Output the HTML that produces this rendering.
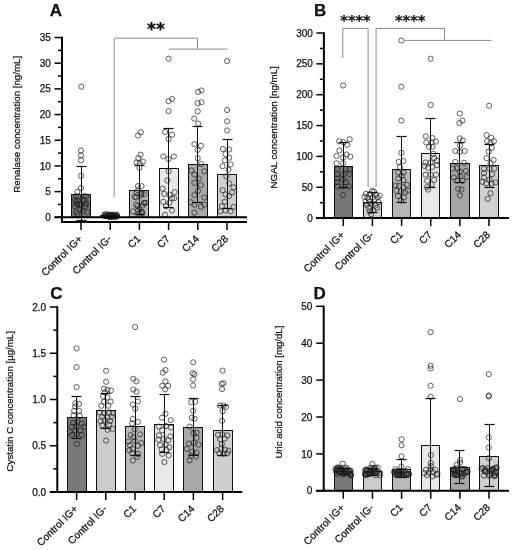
<!DOCTYPE html>
<html><head><meta charset="utf-8"><style>
html,body{margin:0;padding:0;background:#fff;}
svg{display:block;}
text{font-family:"Liberation Sans", Arial, sans-serif;fill:#111;stroke:#111;stroke-width:0.25px;}
</style></head><body>
<svg width="514" height="550" viewBox="0 0 514 550">
<rect width="514" height="550" fill="#fff"/>
<rect x="71.50" y="194.50" width="19.00" height="22.80" fill="#7a7a7a" stroke="#111" stroke-width="1"/>
<rect x="100.50" y="215.50" width="19.00" height="1.80" fill="#cccccc" stroke="#111" stroke-width="1"/>
<rect x="129.50" y="190.50" width="19.00" height="26.80" fill="#b8b8b8" stroke="#111" stroke-width="1"/>
<rect x="159.50" y="168.50" width="19.00" height="48.80" fill="#e8e8e8" stroke="#111" stroke-width="1"/>
<rect x="188.50" y="164.50" width="19.00" height="52.80" fill="#a8a8a8" stroke="#111" stroke-width="1"/>
<rect x="217.50" y="174.50" width="19.00" height="42.80" fill="#cfcfcf" stroke="#111" stroke-width="1"/>
<rect x="102" y="213.2" width="17" height="5.8" rx="2.9" fill="#111"/>
<circle cx="81.3" cy="86.7" r="2.6" fill="none" stroke="#222" stroke-width="0.72"/>
<circle cx="81.0" cy="150.5" r="2.6" fill="none" stroke="#222" stroke-width="0.72"/>
<circle cx="81.0" cy="155.5" r="2.6" fill="none" stroke="#222" stroke-width="0.72"/>
<circle cx="81.0" cy="160.3" r="2.6" fill="none" stroke="#222" stroke-width="0.72"/>
<circle cx="81.0" cy="175.8" r="2.6" fill="none" stroke="#222" stroke-width="0.72"/>
<circle cx="81.0" cy="188.0" r="2.6" fill="none" stroke="#222" stroke-width="0.72"/>
<circle cx="77.3" cy="191.8" r="2.6" fill="none" stroke="#222" stroke-width="0.72"/>
<circle cx="76.2" cy="212.1" r="2.6" fill="none" stroke="#222" stroke-width="0.72"/>
<circle cx="84.4" cy="200.8" r="2.6" fill="none" stroke="#222" stroke-width="0.72"/>
<circle cx="80.9" cy="204.5" r="2.6" fill="none" stroke="#222" stroke-width="0.72"/>
<circle cx="83.0" cy="211.0" r="2.6" fill="none" stroke="#222" stroke-width="0.72"/>
<circle cx="75.7" cy="196.5" r="2.6" fill="none" stroke="#222" stroke-width="0.72"/>
<circle cx="85.4" cy="204.2" r="2.6" fill="none" stroke="#222" stroke-width="0.72"/>
<circle cx="84.4" cy="196.0" r="2.6" fill="none" stroke="#222" stroke-width="0.72"/>
<circle cx="80.3" cy="209.7" r="2.6" fill="none" stroke="#222" stroke-width="0.72"/>
<circle cx="77.5" cy="214.0" r="2.6" fill="none" stroke="#222" stroke-width="0.72"/>
<circle cx="86.2" cy="196.6" r="2.6" fill="none" stroke="#222" stroke-width="0.72"/>
<circle cx="74.8" cy="206.3" r="2.6" fill="none" stroke="#222" stroke-width="0.72"/>
<circle cx="86.7" cy="203.2" r="2.6" fill="none" stroke="#222" stroke-width="0.72"/>
<circle cx="77.3" cy="204.0" r="2.6" fill="none" stroke="#222" stroke-width="0.72"/>
<circle cx="74.9" cy="200.2" r="2.6" fill="none" stroke="#222" stroke-width="0.72"/>
<circle cx="80.2" cy="205.4" r="2.6" fill="none" stroke="#222" stroke-width="0.72"/>
<circle cx="77.5" cy="200.4" r="2.6" fill="none" stroke="#222" stroke-width="0.72"/>
<circle cx="77.3" cy="204.7" r="2.6" fill="none" stroke="#222" stroke-width="0.72"/>
<circle cx="78.3" cy="196.4" r="2.6" fill="none" stroke="#222" stroke-width="0.72"/>
<circle cx="85.4" cy="206.6" r="2.6" fill="none" stroke="#222" stroke-width="0.72"/>
<circle cx="82.8" cy="199.5" r="2.6" fill="none" stroke="#222" stroke-width="0.72"/>
<circle cx="87.4" cy="212.3" r="2.6" fill="none" stroke="#222" stroke-width="0.72"/>
<circle cx="76.1" cy="202.3" r="2.6" fill="none" stroke="#222" stroke-width="0.72"/>
<circle cx="116.7" cy="216.7" r="2.6" fill="none" stroke="#222" stroke-width="0.72"/>
<circle cx="105.0" cy="214.5" r="2.6" fill="none" stroke="#222" stroke-width="0.72"/>
<circle cx="115.2" cy="216.1" r="2.6" fill="none" stroke="#222" stroke-width="0.72"/>
<circle cx="113.0" cy="215.1" r="2.6" fill="none" stroke="#222" stroke-width="0.72"/>
<circle cx="112.2" cy="215.8" r="2.6" fill="none" stroke="#222" stroke-width="0.72"/>
<circle cx="111.9" cy="214.7" r="2.6" fill="none" stroke="#222" stroke-width="0.72"/>
<circle cx="109.9" cy="215.3" r="2.6" fill="none" stroke="#222" stroke-width="0.72"/>
<circle cx="113.7" cy="216.8" r="2.6" fill="none" stroke="#222" stroke-width="0.72"/>
<circle cx="116.6" cy="215.7" r="2.6" fill="none" stroke="#222" stroke-width="0.72"/>
<circle cx="110.1" cy="215.0" r="2.6" fill="none" stroke="#222" stroke-width="0.72"/>
<circle cx="104.8" cy="214.4" r="2.6" fill="none" stroke="#222" stroke-width="0.72"/>
<circle cx="110.3" cy="215.1" r="2.6" fill="none" stroke="#222" stroke-width="0.72"/>
<circle cx="109.2" cy="216.5" r="2.6" fill="none" stroke="#222" stroke-width="0.72"/>
<circle cx="111.1" cy="215.7" r="2.6" fill="none" stroke="#222" stroke-width="0.72"/>
<circle cx="107.4" cy="214.4" r="2.6" fill="none" stroke="#222" stroke-width="0.72"/>
<circle cx="108.5" cy="214.6" r="2.6" fill="none" stroke="#222" stroke-width="0.72"/>
<circle cx="110.9" cy="216.8" r="2.6" fill="none" stroke="#222" stroke-width="0.72"/>
<circle cx="113.1" cy="214.8" r="2.6" fill="none" stroke="#222" stroke-width="0.72"/>
<circle cx="115.9" cy="216.3" r="2.6" fill="none" stroke="#222" stroke-width="0.72"/>
<circle cx="113.8" cy="216.6" r="2.6" fill="none" stroke="#222" stroke-width="0.72"/>
<circle cx="114.2" cy="216.3" r="2.6" fill="none" stroke="#222" stroke-width="0.72"/>
<circle cx="108.9" cy="216.8" r="2.6" fill="none" stroke="#222" stroke-width="0.72"/>
<circle cx="116.8" cy="214.7" r="2.6" fill="none" stroke="#222" stroke-width="0.72"/>
<circle cx="114.1" cy="216.1" r="2.6" fill="none" stroke="#222" stroke-width="0.72"/>
<circle cx="110.3" cy="215.6" r="2.6" fill="none" stroke="#222" stroke-width="0.72"/>
<circle cx="110.7" cy="216.6" r="2.6" fill="none" stroke="#222" stroke-width="0.72"/>
<circle cx="110.8" cy="216.4" r="2.6" fill="none" stroke="#222" stroke-width="0.72"/>
<circle cx="108.9" cy="216.5" r="2.6" fill="none" stroke="#222" stroke-width="0.72"/>
<circle cx="116.0" cy="215.5" r="2.6" fill="none" stroke="#222" stroke-width="0.72"/>
<circle cx="111.7" cy="216.6" r="2.6" fill="none" stroke="#222" stroke-width="0.72"/>
<circle cx="140.9" cy="132.3" r="2.6" fill="none" stroke="#222" stroke-width="0.72"/>
<circle cx="138.0" cy="135.5" r="2.6" fill="none" stroke="#222" stroke-width="0.72"/>
<circle cx="140.6" cy="154.7" r="2.6" fill="none" stroke="#222" stroke-width="0.72"/>
<circle cx="138.3" cy="158.2" r="2.6" fill="none" stroke="#222" stroke-width="0.72"/>
<circle cx="136.6" cy="162.5" r="2.6" fill="none" stroke="#222" stroke-width="0.72"/>
<circle cx="142.8" cy="161.6" r="2.6" fill="none" stroke="#222" stroke-width="0.72"/>
<circle cx="139.7" cy="163.0" r="2.6" fill="none" stroke="#222" stroke-width="0.72"/>
<circle cx="139.4" cy="167.8" r="2.6" fill="none" stroke="#222" stroke-width="0.72"/>
<circle cx="138.0" cy="186.1" r="2.6" fill="none" stroke="#222" stroke-width="0.72"/>
<circle cx="141.5" cy="186.1" r="2.6" fill="none" stroke="#222" stroke-width="0.72"/>
<circle cx="138.0" cy="190.4" r="2.6" fill="none" stroke="#222" stroke-width="0.72"/>
<circle cx="136.0" cy="204.5" r="2.6" fill="none" stroke="#222" stroke-width="0.72"/>
<circle cx="137.7" cy="205.9" r="2.6" fill="none" stroke="#222" stroke-width="0.72"/>
<circle cx="141.0" cy="193.5" r="2.6" fill="none" stroke="#222" stroke-width="0.72"/>
<circle cx="133.1" cy="211.3" r="2.6" fill="none" stroke="#222" stroke-width="0.72"/>
<circle cx="136.3" cy="197.4" r="2.6" fill="none" stroke="#222" stroke-width="0.72"/>
<circle cx="145.8" cy="202.8" r="2.6" fill="none" stroke="#222" stroke-width="0.72"/>
<circle cx="143.8" cy="203.0" r="2.6" fill="none" stroke="#222" stroke-width="0.72"/>
<circle cx="141.2" cy="195.5" r="2.6" fill="none" stroke="#222" stroke-width="0.72"/>
<circle cx="141.2" cy="212.0" r="2.6" fill="none" stroke="#222" stroke-width="0.72"/>
<circle cx="139.7" cy="209.0" r="2.6" fill="none" stroke="#222" stroke-width="0.72"/>
<circle cx="141.6" cy="193.5" r="2.6" fill="none" stroke="#222" stroke-width="0.72"/>
<circle cx="142.8" cy="205.6" r="2.6" fill="none" stroke="#222" stroke-width="0.72"/>
<circle cx="136.8" cy="192.7" r="2.6" fill="none" stroke="#222" stroke-width="0.72"/>
<circle cx="144.2" cy="202.9" r="2.6" fill="none" stroke="#222" stroke-width="0.72"/>
<circle cx="142.2" cy="212.2" r="2.6" fill="none" stroke="#222" stroke-width="0.72"/>
<circle cx="142.2" cy="213.2" r="2.6" fill="none" stroke="#222" stroke-width="0.72"/>
<circle cx="138.0" cy="210.4" r="2.6" fill="none" stroke="#222" stroke-width="0.72"/>
<circle cx="138.7" cy="213.5" r="2.6" fill="none" stroke="#222" stroke-width="0.72"/>
<circle cx="144.3" cy="194.2" r="2.6" fill="none" stroke="#222" stroke-width="0.72"/>
<circle cx="134.7" cy="197.0" r="2.6" fill="none" stroke="#222" stroke-width="0.72"/>
<circle cx="168.6" cy="58.7" r="2.6" fill="none" stroke="#222" stroke-width="0.72"/>
<circle cx="172.1" cy="98.9" r="2.6" fill="none" stroke="#222" stroke-width="0.72"/>
<circle cx="168.6" cy="101.1" r="2.6" fill="none" stroke="#222" stroke-width="0.72"/>
<circle cx="168.6" cy="111.1" r="2.6" fill="none" stroke="#222" stroke-width="0.72"/>
<circle cx="165.1" cy="132.0" r="2.6" fill="none" stroke="#222" stroke-width="0.72"/>
<circle cx="172.1" cy="134.6" r="2.6" fill="none" stroke="#222" stroke-width="0.72"/>
<circle cx="168.6" cy="139.0" r="2.6" fill="none" stroke="#222" stroke-width="0.72"/>
<circle cx="163.3" cy="156.4" r="2.6" fill="none" stroke="#222" stroke-width="0.72"/>
<circle cx="173.8" cy="156.4" r="2.6" fill="none" stroke="#222" stroke-width="0.72"/>
<circle cx="168.6" cy="159.0" r="2.6" fill="none" stroke="#222" stroke-width="0.72"/>
<circle cx="168.6" cy="171.2" r="2.6" fill="none" stroke="#222" stroke-width="0.72"/>
<circle cx="167.4" cy="180.5" r="2.6" fill="none" stroke="#222" stroke-width="0.72"/>
<circle cx="162.5" cy="188.7" r="2.6" fill="none" stroke="#222" stroke-width="0.72"/>
<circle cx="174.7" cy="192.2" r="2.6" fill="none" stroke="#222" stroke-width="0.72"/>
<circle cx="164.2" cy="193.9" r="2.6" fill="none" stroke="#222" stroke-width="0.72"/>
<circle cx="169.5" cy="194.8" r="2.6" fill="none" stroke="#222" stroke-width="0.72"/>
<circle cx="172.1" cy="198.3" r="2.6" fill="none" stroke="#222" stroke-width="0.72"/>
<circle cx="163.3" cy="201.8" r="2.6" fill="none" stroke="#222" stroke-width="0.72"/>
<circle cx="169.5" cy="202.7" r="2.6" fill="none" stroke="#222" stroke-width="0.72"/>
<circle cx="174.3" cy="198.3" r="2.6" fill="none" stroke="#222" stroke-width="0.72"/>
<circle cx="172.1" cy="210.5" r="2.6" fill="none" stroke="#222" stroke-width="0.72"/>
<circle cx="165.1" cy="214.9" r="2.6" fill="none" stroke="#222" stroke-width="0.72"/>
<circle cx="166.0" cy="206.2" r="2.6" fill="none" stroke="#222" stroke-width="0.72"/>
<circle cx="198.2" cy="91.9" r="2.6" fill="none" stroke="#222" stroke-width="0.72"/>
<circle cx="201.5" cy="90.5" r="2.6" fill="none" stroke="#222" stroke-width="0.72"/>
<circle cx="197.7" cy="103.2" r="2.6" fill="none" stroke="#222" stroke-width="0.72"/>
<circle cx="201.5" cy="102.3" r="2.6" fill="none" stroke="#222" stroke-width="0.72"/>
<circle cx="197.7" cy="111.4" r="2.6" fill="none" stroke="#222" stroke-width="0.72"/>
<circle cx="194.2" cy="118.7" r="2.6" fill="none" stroke="#222" stroke-width="0.72"/>
<circle cx="198.2" cy="123.6" r="2.6" fill="none" stroke="#222" stroke-width="0.72"/>
<circle cx="194.4" cy="144.1" r="2.6" fill="none" stroke="#222" stroke-width="0.72"/>
<circle cx="200.9" cy="145.8" r="2.6" fill="none" stroke="#222" stroke-width="0.72"/>
<circle cx="197.7" cy="149.9" r="2.6" fill="none" stroke="#222" stroke-width="0.72"/>
<circle cx="197.7" cy="158.2" r="2.6" fill="none" stroke="#222" stroke-width="0.72"/>
<circle cx="200.9" cy="164.0" r="2.6" fill="none" stroke="#222" stroke-width="0.72"/>
<circle cx="191.5" cy="170.5" r="2.6" fill="none" stroke="#222" stroke-width="0.72"/>
<circle cx="204.5" cy="171.3" r="2.6" fill="none" stroke="#222" stroke-width="0.72"/>
<circle cx="194.4" cy="174.6" r="2.6" fill="none" stroke="#222" stroke-width="0.72"/>
<circle cx="198.7" cy="178.5" r="2.6" fill="none" stroke="#222" stroke-width="0.72"/>
<circle cx="194.4" cy="182.9" r="2.6" fill="none" stroke="#222" stroke-width="0.72"/>
<circle cx="200.9" cy="185.1" r="2.6" fill="none" stroke="#222" stroke-width="0.72"/>
<circle cx="198.0" cy="190.9" r="2.6" fill="none" stroke="#222" stroke-width="0.72"/>
<circle cx="194.4" cy="195.0" r="2.6" fill="none" stroke="#222" stroke-width="0.72"/>
<circle cx="204.5" cy="197.5" r="2.6" fill="none" stroke="#222" stroke-width="0.72"/>
<circle cx="190.7" cy="202.3" r="2.6" fill="none" stroke="#222" stroke-width="0.72"/>
<circle cx="194.4" cy="204.7" r="2.6" fill="none" stroke="#222" stroke-width="0.72"/>
<circle cx="200.9" cy="206.9" r="2.6" fill="none" stroke="#222" stroke-width="0.72"/>
<circle cx="204.5" cy="204.7" r="2.6" fill="none" stroke="#222" stroke-width="0.72"/>
<circle cx="194.4" cy="212.7" r="2.6" fill="none" stroke="#222" stroke-width="0.72"/>
<circle cx="227.1" cy="61.1" r="2.6" fill="none" stroke="#222" stroke-width="0.72"/>
<circle cx="227.1" cy="110.0" r="2.6" fill="none" stroke="#222" stroke-width="0.72"/>
<circle cx="227.1" cy="121.3" r="2.6" fill="none" stroke="#222" stroke-width="0.72"/>
<circle cx="227.1" cy="130.4" r="2.6" fill="none" stroke="#222" stroke-width="0.72"/>
<circle cx="222.9" cy="149.0" r="2.6" fill="none" stroke="#222" stroke-width="0.72"/>
<circle cx="229.2" cy="149.5" r="2.6" fill="none" stroke="#222" stroke-width="0.72"/>
<circle cx="225.5" cy="154.1" r="2.6" fill="none" stroke="#222" stroke-width="0.72"/>
<circle cx="229.2" cy="157.7" r="2.6" fill="none" stroke="#222" stroke-width="0.72"/>
<circle cx="224.8" cy="160.4" r="2.6" fill="none" stroke="#222" stroke-width="0.72"/>
<circle cx="222.6" cy="166.2" r="2.6" fill="none" stroke="#222" stroke-width="0.72"/>
<circle cx="230.6" cy="164.4" r="2.6" fill="none" stroke="#222" stroke-width="0.72"/>
<circle cx="228.5" cy="169.8" r="2.6" fill="none" stroke="#222" stroke-width="0.72"/>
<circle cx="226.3" cy="176.4" r="2.6" fill="none" stroke="#222" stroke-width="0.72"/>
<circle cx="229.2" cy="183.3" r="2.6" fill="none" stroke="#222" stroke-width="0.72"/>
<circle cx="233.5" cy="187.3" r="2.6" fill="none" stroke="#222" stroke-width="0.72"/>
<circle cx="222.6" cy="190.2" r="2.6" fill="none" stroke="#222" stroke-width="0.72"/>
<circle cx="232.1" cy="192.4" r="2.6" fill="none" stroke="#222" stroke-width="0.72"/>
<circle cx="225.5" cy="194.5" r="2.6" fill="none" stroke="#222" stroke-width="0.72"/>
<circle cx="229.2" cy="196.0" r="2.6" fill="none" stroke="#222" stroke-width="0.72"/>
<circle cx="224.8" cy="201.8" r="2.6" fill="none" stroke="#222" stroke-width="0.72"/>
<circle cx="221.9" cy="206.2" r="2.6" fill="none" stroke="#222" stroke-width="0.72"/>
<circle cx="233.5" cy="206.9" r="2.6" fill="none" stroke="#222" stroke-width="0.72"/>
<circle cx="220.5" cy="211.3" r="2.6" fill="none" stroke="#222" stroke-width="0.72"/>
<circle cx="225.5" cy="210.5" r="2.6" fill="none" stroke="#222" stroke-width="0.72"/>
<circle cx="230.6" cy="211.3" r="2.6" fill="none" stroke="#222" stroke-width="0.72"/>
<line x1="81.50" y1="166.96" x2="81.50" y2="220.38" stroke="#111" stroke-width="1"/>
<line x1="76.50" y1="166.50" x2="86.50" y2="166.50" stroke="#111" stroke-width="1.2"/>
<line x1="76.50" y1="220.50" x2="86.50" y2="220.50" stroke="#111" stroke-width="1.2"/>
<line x1="110.50" y1="215.76" x2="110.50" y2="215.76" stroke="#111" stroke-width="1"/>
<line x1="105.50" y1="215.50" x2="115.50" y2="215.50" stroke="#111" stroke-width="1.2"/>
<line x1="105.50" y1="215.50" x2="115.50" y2="215.50" stroke="#111" stroke-width="1.2"/>
<line x1="139.50" y1="165.62" x2="139.50" y2="214.73" stroke="#111" stroke-width="1"/>
<line x1="134.50" y1="165.50" x2="144.50" y2="165.50" stroke="#111" stroke-width="1.2"/>
<line x1="134.50" y1="214.50" x2="144.50" y2="214.50" stroke="#111" stroke-width="1.2"/>
<line x1="168.50" y1="128.43" x2="168.50" y2="207.03" stroke="#111" stroke-width="1"/>
<line x1="163.50" y1="128.50" x2="173.50" y2="128.50" stroke="#111" stroke-width="1.2"/>
<line x1="163.50" y1="207.50" x2="173.50" y2="207.50" stroke="#111" stroke-width="1.2"/>
<line x1="197.50" y1="126.89" x2="197.50" y2="202.40" stroke="#111" stroke-width="1"/>
<line x1="192.50" y1="126.50" x2="202.50" y2="126.50" stroke="#111" stroke-width="1.2"/>
<line x1="192.50" y1="202.50" x2="202.50" y2="202.50" stroke="#111" stroke-width="1.2"/>
<line x1="227.50" y1="139.22" x2="227.50" y2="208.57" stroke="#111" stroke-width="1"/>
<line x1="222.50" y1="139.50" x2="232.50" y2="139.50" stroke="#111" stroke-width="1.2"/>
<line x1="222.50" y1="208.50" x2="232.50" y2="208.50" stroke="#111" stroke-width="1.2"/>
<line x1="62" y1="36.75" x2="62" y2="223" stroke="#000" stroke-width="2"/>
<line x1="54.5" y1="217.30" x2="62" y2="217.30" stroke="#000" stroke-width="1.5"/>
<text x="50.8" y="220.90" font-size="10" text-anchor="end">0</text>
<line x1="54.5" y1="191.62" x2="62" y2="191.62" stroke="#000" stroke-width="1.5"/>
<text x="50.8" y="195.22" font-size="10" text-anchor="end">5</text>
<line x1="54.5" y1="165.93" x2="62" y2="165.93" stroke="#000" stroke-width="1.5"/>
<text x="50.8" y="169.53" font-size="10" text-anchor="end">10</text>
<line x1="54.5" y1="140.25" x2="62" y2="140.25" stroke="#000" stroke-width="1.5"/>
<text x="50.8" y="143.84" font-size="10" text-anchor="end">15</text>
<line x1="54.5" y1="114.56" x2="62" y2="114.56" stroke="#000" stroke-width="1.5"/>
<text x="50.8" y="118.16" font-size="10" text-anchor="end">20</text>
<line x1="54.5" y1="88.88" x2="62" y2="88.88" stroke="#000" stroke-width="1.5"/>
<text x="50.8" y="92.48" font-size="10" text-anchor="end">25</text>
<line x1="54.5" y1="63.19" x2="62" y2="63.19" stroke="#000" stroke-width="1.5"/>
<text x="50.8" y="66.79" font-size="10" text-anchor="end">30</text>
<line x1="54.5" y1="37.51" x2="62" y2="37.51" stroke="#000" stroke-width="1.5"/>
<text x="50.8" y="41.11" font-size="10" text-anchor="end">35</text>
<line x1="58" y1="204.46" x2="62" y2="204.46" stroke="#000" stroke-width="1.5"/>
<line x1="58" y1="178.77" x2="62" y2="178.77" stroke="#000" stroke-width="1.5"/>
<line x1="58" y1="153.09" x2="62" y2="153.09" stroke="#000" stroke-width="1.5"/>
<line x1="58" y1="127.40" x2="62" y2="127.40" stroke="#000" stroke-width="1.5"/>
<line x1="58" y1="101.72" x2="62" y2="101.72" stroke="#000" stroke-width="1.5"/>
<line x1="58" y1="76.03" x2="62" y2="76.03" stroke="#000" stroke-width="1.5"/>
<line x1="58" y1="50.35" x2="62" y2="50.35" stroke="#000" stroke-width="1.5"/>
<line x1="54.5" y1="217.3" x2="247" y2="217.3" stroke="#000" stroke-width="2"/>
<line x1="62" y1="222" x2="247" y2="222" stroke="#000" stroke-width="2"/>
<line x1="81.00" y1="222" x2="81.00" y2="230" stroke="#000" stroke-width="1.5"/>
<text x="82.90" y="239.40" font-size="10.3" text-anchor="end" transform="rotate(-45 82.90 239.40)">Control IG+</text>
<line x1="110.20" y1="222" x2="110.20" y2="230" stroke="#000" stroke-width="1.5"/>
<text x="112.10" y="239.40" font-size="10.3" text-anchor="end" transform="rotate(-45 112.10 239.40)">Control IG-</text>
<line x1="139.40" y1="222" x2="139.40" y2="230" stroke="#000" stroke-width="1.5"/>
<text x="141.30" y="239.40" font-size="10.3" text-anchor="end" transform="rotate(-45 141.30 239.40)">C1</text>
<line x1="168.60" y1="222" x2="168.60" y2="230" stroke="#000" stroke-width="1.5"/>
<text x="170.50" y="239.40" font-size="10.3" text-anchor="end" transform="rotate(-45 170.50 239.40)">C7</text>
<line x1="197.80" y1="222" x2="197.80" y2="230" stroke="#000" stroke-width="1.5"/>
<text x="199.70" y="239.40" font-size="10.3" text-anchor="end" transform="rotate(-45 199.70 239.40)">C14</text>
<line x1="227.00" y1="222" x2="227.00" y2="230" stroke="#000" stroke-width="1.5"/>
<text x="228.90" y="239.40" font-size="10.3" text-anchor="end" transform="rotate(-45 228.90 239.40)">C28</text>
<rect x="334.50" y="166.50" width="18.00" height="51.60" fill="#767676" stroke="#111" stroke-width="1"/>
<rect x="363.50" y="202.50" width="18.00" height="15.60" fill="#cdcdcd" stroke="#111" stroke-width="1"/>
<rect x="392.50" y="169.50" width="18.00" height="48.60" fill="#b6b6b6" stroke="#111" stroke-width="1"/>
<rect x="421.50" y="153.50" width="18.00" height="64.60" fill="#e8e8e8" stroke="#111" stroke-width="1"/>
<rect x="450.50" y="163.50" width="19.00" height="54.60" fill="#a6a6a6" stroke="#111" stroke-width="1"/>
<rect x="479.50" y="165.50" width="19.00" height="52.60" fill="#d0d0d0" stroke="#111" stroke-width="1"/>
<circle cx="343.1" cy="85.5" r="2.6" fill="none" stroke="#222" stroke-width="0.72"/>
<circle cx="349.7" cy="139.2" r="2.6" fill="none" stroke="#222" stroke-width="0.72"/>
<circle cx="339.2" cy="141.3" r="2.6" fill="none" stroke="#222" stroke-width="0.72"/>
<circle cx="343.6" cy="142.2" r="2.6" fill="none" stroke="#222" stroke-width="0.72"/>
<circle cx="347.1" cy="144.8" r="2.6" fill="none" stroke="#222" stroke-width="0.72"/>
<circle cx="339.4" cy="150.5" r="2.6" fill="none" stroke="#222" stroke-width="0.72"/>
<circle cx="346.6" cy="154.5" r="2.6" fill="none" stroke="#222" stroke-width="0.72"/>
<circle cx="336.5" cy="156.0" r="2.6" fill="none" stroke="#222" stroke-width="0.72"/>
<circle cx="343.0" cy="157.5" r="2.6" fill="none" stroke="#222" stroke-width="0.72"/>
<circle cx="350.3" cy="156.7" r="2.6" fill="none" stroke="#222" stroke-width="0.72"/>
<circle cx="336.5" cy="163.3" r="2.6" fill="none" stroke="#222" stroke-width="0.72"/>
<circle cx="343.0" cy="163.3" r="2.6" fill="none" stroke="#222" stroke-width="0.72"/>
<circle cx="337.2" cy="169.1" r="2.6" fill="none" stroke="#222" stroke-width="0.72"/>
<circle cx="345.9" cy="169.1" r="2.6" fill="none" stroke="#222" stroke-width="0.72"/>
<circle cx="349.5" cy="169.1" r="2.6" fill="none" stroke="#222" stroke-width="0.72"/>
<circle cx="337.2" cy="174.2" r="2.6" fill="none" stroke="#222" stroke-width="0.72"/>
<circle cx="343.0" cy="174.2" r="2.6" fill="none" stroke="#222" stroke-width="0.72"/>
<circle cx="349.5" cy="174.2" r="2.6" fill="none" stroke="#222" stroke-width="0.72"/>
<circle cx="337.2" cy="178.5" r="2.6" fill="none" stroke="#222" stroke-width="0.72"/>
<circle cx="343.0" cy="179.3" r="2.6" fill="none" stroke="#222" stroke-width="0.72"/>
<circle cx="345.9" cy="182.2" r="2.6" fill="none" stroke="#222" stroke-width="0.72"/>
<circle cx="337.2" cy="182.2" r="2.6" fill="none" stroke="#222" stroke-width="0.72"/>
<circle cx="348.8" cy="186.5" r="2.6" fill="none" stroke="#222" stroke-width="0.72"/>
<circle cx="337.9" cy="186.5" r="2.6" fill="none" stroke="#222" stroke-width="0.72"/>
<circle cx="343.0" cy="186.5" r="2.6" fill="none" stroke="#222" stroke-width="0.72"/>
<circle cx="343.0" cy="195.0" r="2.6" fill="none" stroke="#222" stroke-width="0.72"/>
<circle cx="372.2" cy="190.9" r="2.6" fill="none" stroke="#222" stroke-width="0.72"/>
<circle cx="374.0" cy="191.7" r="2.6" fill="none" stroke="#222" stroke-width="0.72"/>
<circle cx="366.0" cy="193.8" r="2.6" fill="none" stroke="#222" stroke-width="0.72"/>
<circle cx="369.7" cy="194.2" r="2.6" fill="none" stroke="#222" stroke-width="0.72"/>
<circle cx="376.2" cy="194.6" r="2.6" fill="none" stroke="#222" stroke-width="0.72"/>
<circle cx="379.8" cy="195.7" r="2.6" fill="none" stroke="#222" stroke-width="0.72"/>
<circle cx="364.6" cy="196.8" r="2.6" fill="none" stroke="#222" stroke-width="0.72"/>
<circle cx="367.5" cy="197.5" r="2.6" fill="none" stroke="#222" stroke-width="0.72"/>
<circle cx="372.6" cy="197.5" r="2.6" fill="none" stroke="#222" stroke-width="0.72"/>
<circle cx="377.7" cy="197.5" r="2.6" fill="none" stroke="#222" stroke-width="0.72"/>
<circle cx="368.9" cy="199.7" r="2.6" fill="none" stroke="#222" stroke-width="0.72"/>
<circle cx="374.8" cy="199.3" r="2.6" fill="none" stroke="#222" stroke-width="0.72"/>
<circle cx="366.7" cy="204.8" r="2.6" fill="none" stroke="#222" stroke-width="0.72"/>
<circle cx="371.1" cy="204.0" r="2.6" fill="none" stroke="#222" stroke-width="0.72"/>
<circle cx="375.5" cy="205.5" r="2.6" fill="none" stroke="#222" stroke-width="0.72"/>
<circle cx="368.9" cy="207.7" r="2.6" fill="none" stroke="#222" stroke-width="0.72"/>
<circle cx="376.9" cy="207.7" r="2.6" fill="none" stroke="#222" stroke-width="0.72"/>
<circle cx="369.7" cy="211.3" r="2.6" fill="none" stroke="#222" stroke-width="0.72"/>
<circle cx="373.3" cy="210.6" r="2.6" fill="none" stroke="#222" stroke-width="0.72"/>
<circle cx="371.1" cy="214.2" r="2.6" fill="none" stroke="#222" stroke-width="0.72"/>
<circle cx="365.5" cy="201.5" r="2.6" fill="none" stroke="#222" stroke-width="0.72"/>
<circle cx="378.5" cy="202.0" r="2.6" fill="none" stroke="#222" stroke-width="0.72"/>
<circle cx="370.0" cy="201.8" r="2.6" fill="none" stroke="#222" stroke-width="0.72"/>
<circle cx="401.4" cy="40.5" r="2.6" fill="none" stroke="#222" stroke-width="0.72"/>
<circle cx="401.4" cy="86.7" r="2.6" fill="none" stroke="#222" stroke-width="0.72"/>
<circle cx="401.4" cy="120.6" r="2.6" fill="none" stroke="#222" stroke-width="0.72"/>
<circle cx="401.4" cy="152.8" r="2.6" fill="none" stroke="#222" stroke-width="0.72"/>
<circle cx="398.6" cy="161.9" r="2.6" fill="none" stroke="#222" stroke-width="0.72"/>
<circle cx="403.5" cy="161.0" r="2.6" fill="none" stroke="#222" stroke-width="0.72"/>
<circle cx="400.0" cy="167.1" r="2.6" fill="none" stroke="#222" stroke-width="0.72"/>
<circle cx="398.2" cy="172.4" r="2.6" fill="none" stroke="#222" stroke-width="0.72"/>
<circle cx="403.5" cy="172.4" r="2.6" fill="none" stroke="#222" stroke-width="0.72"/>
<circle cx="401.7" cy="175.8" r="2.6" fill="none" stroke="#222" stroke-width="0.72"/>
<circle cx="398.2" cy="178.5" r="2.6" fill="none" stroke="#222" stroke-width="0.72"/>
<circle cx="403.5" cy="180.2" r="2.6" fill="none" stroke="#222" stroke-width="0.72"/>
<circle cx="395.6" cy="185.4" r="2.6" fill="none" stroke="#222" stroke-width="0.72"/>
<circle cx="399.1" cy="186.0" r="2.6" fill="none" stroke="#222" stroke-width="0.72"/>
<circle cx="406.9" cy="184.9" r="2.6" fill="none" stroke="#222" stroke-width="0.72"/>
<circle cx="403.5" cy="187.2" r="2.6" fill="none" stroke="#222" stroke-width="0.72"/>
<circle cx="396.5" cy="190.7" r="2.6" fill="none" stroke="#222" stroke-width="0.72"/>
<circle cx="400.8" cy="191.2" r="2.6" fill="none" stroke="#222" stroke-width="0.72"/>
<circle cx="407.8" cy="190.7" r="2.6" fill="none" stroke="#222" stroke-width="0.72"/>
<circle cx="405.2" cy="192.4" r="2.6" fill="none" stroke="#222" stroke-width="0.72"/>
<circle cx="398.0" cy="196.0" r="2.6" fill="none" stroke="#222" stroke-width="0.72"/>
<circle cx="404.0" cy="197.5" r="2.6" fill="none" stroke="#222" stroke-width="0.72"/>
<circle cx="401.0" cy="200.5" r="2.6" fill="none" stroke="#222" stroke-width="0.72"/>
<circle cx="430.7" cy="58.7" r="2.6" fill="none" stroke="#222" stroke-width="0.72"/>
<circle cx="430.7" cy="105.0" r="2.6" fill="none" stroke="#222" stroke-width="0.72"/>
<circle cx="425.8" cy="136.3" r="2.6" fill="none" stroke="#222" stroke-width="0.72"/>
<circle cx="432.5" cy="138.1" r="2.6" fill="none" stroke="#222" stroke-width="0.72"/>
<circle cx="426.3" cy="142.5" r="2.6" fill="none" stroke="#222" stroke-width="0.72"/>
<circle cx="431.6" cy="142.5" r="2.6" fill="none" stroke="#222" stroke-width="0.72"/>
<circle cx="435.9" cy="141.6" r="2.6" fill="none" stroke="#222" stroke-width="0.72"/>
<circle cx="429.0" cy="146.8" r="2.6" fill="none" stroke="#222" stroke-width="0.72"/>
<circle cx="432.5" cy="146.8" r="2.6" fill="none" stroke="#222" stroke-width="0.72"/>
<circle cx="433.3" cy="153.8" r="2.6" fill="none" stroke="#222" stroke-width="0.72"/>
<circle cx="434.2" cy="158.2" r="2.6" fill="none" stroke="#222" stroke-width="0.72"/>
<circle cx="436.8" cy="160.8" r="2.6" fill="none" stroke="#222" stroke-width="0.72"/>
<circle cx="425.5" cy="162.5" r="2.6" fill="none" stroke="#222" stroke-width="0.72"/>
<circle cx="430.7" cy="162.5" r="2.6" fill="none" stroke="#222" stroke-width="0.72"/>
<circle cx="424.6" cy="166.0" r="2.6" fill="none" stroke="#222" stroke-width="0.72"/>
<circle cx="428.1" cy="167.8" r="2.6" fill="none" stroke="#222" stroke-width="0.72"/>
<circle cx="432.5" cy="166.9" r="2.6" fill="none" stroke="#222" stroke-width="0.72"/>
<circle cx="436.8" cy="165.1" r="2.6" fill="none" stroke="#222" stroke-width="0.72"/>
<circle cx="425.5" cy="174.7" r="2.6" fill="none" stroke="#222" stroke-width="0.72"/>
<circle cx="430.7" cy="174.7" r="2.6" fill="none" stroke="#222" stroke-width="0.72"/>
<circle cx="436.0" cy="174.7" r="2.6" fill="none" stroke="#222" stroke-width="0.72"/>
<circle cx="427.2" cy="180.8" r="2.6" fill="none" stroke="#222" stroke-width="0.72"/>
<circle cx="434.2" cy="180.0" r="2.6" fill="none" stroke="#222" stroke-width="0.72"/>
<circle cx="431.6" cy="184.3" r="2.6" fill="none" stroke="#222" stroke-width="0.72"/>
<circle cx="427.2" cy="187.0" r="2.6" fill="none" stroke="#222" stroke-width="0.72"/>
<circle cx="428.1" cy="189.6" r="2.6" fill="none" stroke="#222" stroke-width="0.72"/>
<circle cx="459.7" cy="113.6" r="2.6" fill="none" stroke="#222" stroke-width="0.72"/>
<circle cx="462.3" cy="120.6" r="2.6" fill="none" stroke="#222" stroke-width="0.72"/>
<circle cx="459.4" cy="123.0" r="2.6" fill="none" stroke="#222" stroke-width="0.72"/>
<circle cx="459.7" cy="138.4" r="2.6" fill="none" stroke="#222" stroke-width="0.72"/>
<circle cx="462.8" cy="140.5" r="2.6" fill="none" stroke="#222" stroke-width="0.72"/>
<circle cx="460.1" cy="145.7" r="2.6" fill="none" stroke="#222" stroke-width="0.72"/>
<circle cx="455.3" cy="151.0" r="2.6" fill="none" stroke="#222" stroke-width="0.72"/>
<circle cx="459.7" cy="152.0" r="2.6" fill="none" stroke="#222" stroke-width="0.72"/>
<circle cx="464.6" cy="151.0" r="2.6" fill="none" stroke="#222" stroke-width="0.72"/>
<circle cx="455.3" cy="162.0" r="2.6" fill="none" stroke="#222" stroke-width="0.72"/>
<circle cx="464.1" cy="162.8" r="2.6" fill="none" stroke="#222" stroke-width="0.72"/>
<circle cx="452.7" cy="168.7" r="2.6" fill="none" stroke="#222" stroke-width="0.72"/>
<circle cx="457.1" cy="168.2" r="2.6" fill="none" stroke="#222" stroke-width="0.72"/>
<circle cx="465.8" cy="170.9" r="2.6" fill="none" stroke="#222" stroke-width="0.72"/>
<circle cx="453.8" cy="177.5" r="2.6" fill="none" stroke="#222" stroke-width="0.72"/>
<circle cx="460.4" cy="176.4" r="2.6" fill="none" stroke="#222" stroke-width="0.72"/>
<circle cx="466.9" cy="176.9" r="2.6" fill="none" stroke="#222" stroke-width="0.72"/>
<circle cx="457.1" cy="180.7" r="2.6" fill="none" stroke="#222" stroke-width="0.72"/>
<circle cx="462.6" cy="180.7" r="2.6" fill="none" stroke="#222" stroke-width="0.72"/>
<circle cx="459.7" cy="171.6" r="2.6" fill="none" stroke="#222" stroke-width="0.72"/>
<circle cx="458.2" cy="188.9" r="2.6" fill="none" stroke="#222" stroke-width="0.72"/>
<circle cx="461.5" cy="189.5" r="2.6" fill="none" stroke="#222" stroke-width="0.72"/>
<circle cx="459.8" cy="195.5" r="2.6" fill="none" stroke="#222" stroke-width="0.72"/>
<circle cx="489.1" cy="105.8" r="2.6" fill="none" stroke="#222" stroke-width="0.72"/>
<circle cx="486.6" cy="135.1" r="2.6" fill="none" stroke="#222" stroke-width="0.72"/>
<circle cx="491.3" cy="137.8" r="2.6" fill="none" stroke="#222" stroke-width="0.72"/>
<circle cx="487.0" cy="141.2" r="2.6" fill="none" stroke="#222" stroke-width="0.72"/>
<circle cx="493.9" cy="141.2" r="2.6" fill="none" stroke="#222" stroke-width="0.72"/>
<circle cx="490.5" cy="143.0" r="2.6" fill="none" stroke="#222" stroke-width="0.72"/>
<circle cx="491.8" cy="147.7" r="2.6" fill="none" stroke="#222" stroke-width="0.72"/>
<circle cx="488.7" cy="151.7" r="2.6" fill="none" stroke="#222" stroke-width="0.72"/>
<circle cx="486.6" cy="158.2" r="2.6" fill="none" stroke="#222" stroke-width="0.72"/>
<circle cx="493.6" cy="159.9" r="2.6" fill="none" stroke="#222" stroke-width="0.72"/>
<circle cx="490.5" cy="163.1" r="2.6" fill="none" stroke="#222" stroke-width="0.72"/>
<circle cx="483.9" cy="168.7" r="2.6" fill="none" stroke="#222" stroke-width="0.72"/>
<circle cx="489.4" cy="168.7" r="2.6" fill="none" stroke="#222" stroke-width="0.72"/>
<circle cx="494.3" cy="168.7" r="2.6" fill="none" stroke="#222" stroke-width="0.72"/>
<circle cx="483.9" cy="173.1" r="2.6" fill="none" stroke="#222" stroke-width="0.72"/>
<circle cx="492.1" cy="174.2" r="2.6" fill="none" stroke="#222" stroke-width="0.72"/>
<circle cx="483.9" cy="177.5" r="2.6" fill="none" stroke="#222" stroke-width="0.72"/>
<circle cx="489.4" cy="179.7" r="2.6" fill="none" stroke="#222" stroke-width="0.72"/>
<circle cx="482.3" cy="181.8" r="2.6" fill="none" stroke="#222" stroke-width="0.72"/>
<circle cx="495.4" cy="182.4" r="2.6" fill="none" stroke="#222" stroke-width="0.72"/>
<circle cx="486.1" cy="183.5" r="2.6" fill="none" stroke="#222" stroke-width="0.72"/>
<circle cx="491.6" cy="183.5" r="2.6" fill="none" stroke="#222" stroke-width="0.72"/>
<circle cx="490.5" cy="193.3" r="2.6" fill="none" stroke="#222" stroke-width="0.72"/>
<circle cx="487.7" cy="198.8" r="2.6" fill="none" stroke="#222" stroke-width="0.72"/>
<line x1="343.50" y1="142.52" x2="343.50" y2="187.50" stroke="#111" stroke-width="1"/>
<line x1="338.50" y1="142.50" x2="348.50" y2="142.50" stroke="#111" stroke-width="1.2"/>
<line x1="338.50" y1="187.50" x2="348.50" y2="187.50" stroke="#111" stroke-width="1.2"/>
<line x1="372.50" y1="192.49" x2="372.50" y2="212.55" stroke="#111" stroke-width="1"/>
<line x1="367.50" y1="192.50" x2="377.50" y2="192.50" stroke="#111" stroke-width="1.2"/>
<line x1="367.50" y1="212.50" x2="377.50" y2="212.50" stroke="#111" stroke-width="1.2"/>
<line x1="401.50" y1="136.66" x2="401.50" y2="202.67" stroke="#111" stroke-width="1"/>
<line x1="396.50" y1="136.50" x2="406.50" y2="136.50" stroke="#111" stroke-width="1.2"/>
<line x1="396.50" y1="202.50" x2="406.50" y2="202.50" stroke="#111" stroke-width="1.2"/>
<line x1="430.50" y1="118.52" x2="430.50" y2="187.50" stroke="#111" stroke-width="1"/>
<line x1="425.50" y1="118.50" x2="435.50" y2="118.50" stroke="#111" stroke-width="1.2"/>
<line x1="425.50" y1="187.50" x2="435.50" y2="187.50" stroke="#111" stroke-width="1.2"/>
<line x1="459.50" y1="142.52" x2="459.50" y2="182.50" stroke="#111" stroke-width="1"/>
<line x1="454.50" y1="142.50" x2="464.50" y2="142.50" stroke="#111" stroke-width="1.2"/>
<line x1="454.50" y1="182.50" x2="464.50" y2="182.50" stroke="#111" stroke-width="1.2"/>
<line x1="489.50" y1="144.06" x2="489.50" y2="187.50" stroke="#111" stroke-width="1"/>
<line x1="484.50" y1="144.50" x2="494.50" y2="144.50" stroke="#111" stroke-width="1.2"/>
<line x1="484.50" y1="187.50" x2="494.50" y2="187.50" stroke="#111" stroke-width="1.2"/>
<line x1="323.9" y1="32.25" x2="323.9" y2="219.1" stroke="#000" stroke-width="2"/>
<line x1="316.4" y1="218.10" x2="323.9" y2="218.10" stroke="#000" stroke-width="1.5"/>
<text x="312.9" y="221.70" font-size="10" text-anchor="end">0</text>
<line x1="316.4" y1="187.25" x2="323.9" y2="187.25" stroke="#000" stroke-width="1.5"/>
<text x="312.9" y="190.85" font-size="10" text-anchor="end">50</text>
<line x1="316.4" y1="156.40" x2="323.9" y2="156.40" stroke="#000" stroke-width="1.5"/>
<text x="312.9" y="160.00" font-size="10" text-anchor="end">100</text>
<line x1="316.4" y1="125.55" x2="323.9" y2="125.55" stroke="#000" stroke-width="1.5"/>
<text x="312.9" y="129.15" font-size="10" text-anchor="end">150</text>
<line x1="316.4" y1="94.70" x2="323.9" y2="94.70" stroke="#000" stroke-width="1.5"/>
<text x="312.9" y="98.30" font-size="10" text-anchor="end">200</text>
<line x1="316.4" y1="63.85" x2="323.9" y2="63.85" stroke="#000" stroke-width="1.5"/>
<text x="312.9" y="67.45" font-size="10" text-anchor="end">250</text>
<line x1="316.4" y1="33.00" x2="323.9" y2="33.00" stroke="#000" stroke-width="1.5"/>
<text x="312.9" y="36.60" font-size="10" text-anchor="end">300</text>
<line x1="319.9" y1="202.67" x2="323.9" y2="202.67" stroke="#000" stroke-width="1.5"/>
<line x1="319.9" y1="171.82" x2="323.9" y2="171.82" stroke="#000" stroke-width="1.5"/>
<line x1="319.9" y1="140.97" x2="323.9" y2="140.97" stroke="#000" stroke-width="1.5"/>
<line x1="319.9" y1="110.12" x2="323.9" y2="110.12" stroke="#000" stroke-width="1.5"/>
<line x1="319.9" y1="79.28" x2="323.9" y2="79.28" stroke="#000" stroke-width="1.5"/>
<line x1="319.9" y1="48.42" x2="323.9" y2="48.42" stroke="#000" stroke-width="1.5"/>
<line x1="316" y1="218.1" x2="509" y2="218.1" stroke="#000" stroke-width="2"/>
<line x1="343.30" y1="218.1" x2="343.30" y2="226.1" stroke="#000" stroke-width="1.5"/>
<text x="345.20" y="235.50" font-size="10.3" text-anchor="end" transform="rotate(-45 345.20 235.50)">Control IG+</text>
<line x1="372.44" y1="218.1" x2="372.44" y2="226.1" stroke="#000" stroke-width="1.5"/>
<text x="374.34" y="235.50" font-size="10.3" text-anchor="end" transform="rotate(-45 374.34 235.50)">Control IG-</text>
<line x1="401.58" y1="218.1" x2="401.58" y2="226.1" stroke="#000" stroke-width="1.5"/>
<text x="403.48" y="235.50" font-size="10.3" text-anchor="end" transform="rotate(-45 403.48 235.50)">C1</text>
<line x1="430.72" y1="218.1" x2="430.72" y2="226.1" stroke="#000" stroke-width="1.5"/>
<text x="432.62" y="235.50" font-size="10.3" text-anchor="end" transform="rotate(-45 432.62 235.50)">C7</text>
<line x1="459.86" y1="218.1" x2="459.86" y2="226.1" stroke="#000" stroke-width="1.5"/>
<text x="461.76" y="235.50" font-size="10.3" text-anchor="end" transform="rotate(-45 461.76 235.50)">C14</text>
<line x1="489.00" y1="218.1" x2="489.00" y2="226.1" stroke="#000" stroke-width="1.5"/>
<text x="490.90" y="235.50" font-size="10.3" text-anchor="end" transform="rotate(-45 490.90 235.50)">C28</text>
<rect x="67.50" y="417.50" width="19.00" height="74.50" fill="#7a7a7a" stroke="#111" stroke-width="1"/>
<rect x="96.50" y="410.50" width="19.00" height="81.50" fill="#cccccc" stroke="#111" stroke-width="1"/>
<rect x="125.50" y="426.50" width="19.00" height="65.50" fill="#b8b8b8" stroke="#111" stroke-width="1"/>
<rect x="154.50" y="424.50" width="19.00" height="67.50" fill="#e8e8e8" stroke="#111" stroke-width="1"/>
<rect x="183.50" y="427.50" width="19.00" height="64.50" fill="#a8a8a8" stroke="#111" stroke-width="1"/>
<rect x="213.50" y="430.50" width="19.00" height="61.50" fill="#cfcfcf" stroke="#111" stroke-width="1"/>
<circle cx="76.6" cy="348.4" r="2.6" fill="none" stroke="#222" stroke-width="0.72"/>
<circle cx="76.6" cy="367.1" r="2.6" fill="none" stroke="#222" stroke-width="0.72"/>
<circle cx="76.6" cy="387.1" r="2.6" fill="none" stroke="#222" stroke-width="0.72"/>
<circle cx="75.3" cy="403.3" r="2.6" fill="none" stroke="#222" stroke-width="0.72"/>
<circle cx="79.1" cy="403.8" r="2.6" fill="none" stroke="#222" stroke-width="0.72"/>
<circle cx="75.3" cy="406.6" r="2.6" fill="none" stroke="#222" stroke-width="0.72"/>
<circle cx="74.2" cy="410.9" r="2.6" fill="none" stroke="#222" stroke-width="0.72"/>
<circle cx="79.1" cy="410.9" r="2.6" fill="none" stroke="#222" stroke-width="0.72"/>
<circle cx="73.6" cy="415.3" r="2.6" fill="none" stroke="#222" stroke-width="0.72"/>
<circle cx="79.7" cy="415.8" r="2.6" fill="none" stroke="#222" stroke-width="0.72"/>
<circle cx="73.1" cy="422.9" r="2.6" fill="none" stroke="#222" stroke-width="0.72"/>
<circle cx="77.5" cy="421.8" r="2.6" fill="none" stroke="#222" stroke-width="0.72"/>
<circle cx="81.8" cy="423.5" r="2.6" fill="none" stroke="#222" stroke-width="0.72"/>
<circle cx="72.0" cy="426.7" r="2.6" fill="none" stroke="#222" stroke-width="0.72"/>
<circle cx="76.4" cy="426.2" r="2.6" fill="none" stroke="#222" stroke-width="0.72"/>
<circle cx="84.0" cy="426.7" r="2.6" fill="none" stroke="#222" stroke-width="0.72"/>
<circle cx="69.8" cy="431.7" r="2.6" fill="none" stroke="#222" stroke-width="0.72"/>
<circle cx="75.3" cy="430.6" r="2.6" fill="none" stroke="#222" stroke-width="0.72"/>
<circle cx="80.7" cy="430.6" r="2.6" fill="none" stroke="#222" stroke-width="0.72"/>
<circle cx="72.0" cy="434.9" r="2.6" fill="none" stroke="#222" stroke-width="0.72"/>
<circle cx="76.4" cy="434.4" r="2.6" fill="none" stroke="#222" stroke-width="0.72"/>
<circle cx="81.8" cy="434.9" r="2.6" fill="none" stroke="#222" stroke-width="0.72"/>
<circle cx="76.9" cy="443.7" r="2.6" fill="none" stroke="#222" stroke-width="0.72"/>
<circle cx="106.1" cy="370.8" r="2.6" fill="none" stroke="#222" stroke-width="0.72"/>
<circle cx="106.1" cy="381.8" r="2.6" fill="none" stroke="#222" stroke-width="0.72"/>
<circle cx="104.0" cy="388.8" r="2.6" fill="none" stroke="#222" stroke-width="0.72"/>
<circle cx="107.5" cy="389.7" r="2.6" fill="none" stroke="#222" stroke-width="0.72"/>
<circle cx="110.9" cy="390.5" r="2.6" fill="none" stroke="#222" stroke-width="0.72"/>
<circle cx="104.8" cy="392.3" r="2.6" fill="none" stroke="#222" stroke-width="0.72"/>
<circle cx="103.1" cy="396.6" r="2.6" fill="none" stroke="#222" stroke-width="0.72"/>
<circle cx="107.5" cy="397.5" r="2.6" fill="none" stroke="#222" stroke-width="0.72"/>
<circle cx="104.0" cy="401.9" r="2.6" fill="none" stroke="#222" stroke-width="0.72"/>
<circle cx="110.6" cy="401.5" r="2.6" fill="none" stroke="#222" stroke-width="0.72"/>
<circle cx="101.3" cy="405.7" r="2.6" fill="none" stroke="#222" stroke-width="0.72"/>
<circle cx="108.3" cy="405.7" r="2.6" fill="none" stroke="#222" stroke-width="0.72"/>
<circle cx="99.6" cy="412.4" r="2.6" fill="none" stroke="#222" stroke-width="0.72"/>
<circle cx="104.0" cy="413.2" r="2.6" fill="none" stroke="#222" stroke-width="0.72"/>
<circle cx="109.2" cy="412.4" r="2.6" fill="none" stroke="#222" stroke-width="0.72"/>
<circle cx="112.7" cy="413.2" r="2.6" fill="none" stroke="#222" stroke-width="0.72"/>
<circle cx="102.2" cy="416.7" r="2.6" fill="none" stroke="#222" stroke-width="0.72"/>
<circle cx="107.5" cy="417.6" r="2.6" fill="none" stroke="#222" stroke-width="0.72"/>
<circle cx="111.8" cy="416.7" r="2.6" fill="none" stroke="#222" stroke-width="0.72"/>
<circle cx="100.5" cy="421.1" r="2.6" fill="none" stroke="#222" stroke-width="0.72"/>
<circle cx="104.8" cy="420.2" r="2.6" fill="none" stroke="#222" stroke-width="0.72"/>
<circle cx="110.1" cy="421.1" r="2.6" fill="none" stroke="#222" stroke-width="0.72"/>
<circle cx="102.2" cy="425.4" r="2.6" fill="none" stroke="#222" stroke-width="0.72"/>
<circle cx="109.2" cy="424.6" r="2.6" fill="none" stroke="#222" stroke-width="0.72"/>
<circle cx="107.5" cy="429.8" r="2.6" fill="none" stroke="#222" stroke-width="0.72"/>
<circle cx="112.7" cy="428.9" r="2.6" fill="none" stroke="#222" stroke-width="0.72"/>
<circle cx="106.1" cy="440.6" r="2.6" fill="none" stroke="#222" stroke-width="0.72"/>
<circle cx="135.1" cy="327.0" r="2.6" fill="none" stroke="#222" stroke-width="0.72"/>
<circle cx="133.3" cy="378.8" r="2.6" fill="none" stroke="#222" stroke-width="0.72"/>
<circle cx="136.5" cy="381.4" r="2.6" fill="none" stroke="#222" stroke-width="0.72"/>
<circle cx="133.3" cy="389.5" r="2.6" fill="none" stroke="#222" stroke-width="0.72"/>
<circle cx="136.5" cy="391.6" r="2.6" fill="none" stroke="#222" stroke-width="0.72"/>
<circle cx="137.9" cy="401.5" r="2.6" fill="none" stroke="#222" stroke-width="0.72"/>
<circle cx="132.8" cy="404.5" r="2.6" fill="none" stroke="#222" stroke-width="0.72"/>
<circle cx="135.3" cy="408.8" r="2.6" fill="none" stroke="#222" stroke-width="0.72"/>
<circle cx="132.8" cy="419.0" r="2.6" fill="none" stroke="#222" stroke-width="0.72"/>
<circle cx="137.9" cy="421.9" r="2.6" fill="none" stroke="#222" stroke-width="0.72"/>
<circle cx="132.1" cy="423.4" r="2.6" fill="none" stroke="#222" stroke-width="0.72"/>
<circle cx="135.0" cy="429.2" r="2.6" fill="none" stroke="#222" stroke-width="0.72"/>
<circle cx="130.6" cy="435.0" r="2.6" fill="none" stroke="#222" stroke-width="0.72"/>
<circle cx="140.1" cy="434.3" r="2.6" fill="none" stroke="#222" stroke-width="0.72"/>
<circle cx="133.5" cy="437.2" r="2.6" fill="none" stroke="#222" stroke-width="0.72"/>
<circle cx="128.5" cy="441.5" r="2.6" fill="none" stroke="#222" stroke-width="0.72"/>
<circle cx="135.0" cy="440.8" r="2.6" fill="none" stroke="#222" stroke-width="0.72"/>
<circle cx="141.5" cy="443.0" r="2.6" fill="none" stroke="#222" stroke-width="0.72"/>
<circle cx="129.9" cy="445.2" r="2.6" fill="none" stroke="#222" stroke-width="0.72"/>
<circle cx="137.9" cy="445.9" r="2.6" fill="none" stroke="#222" stroke-width="0.72"/>
<circle cx="132.8" cy="448.8" r="2.6" fill="none" stroke="#222" stroke-width="0.72"/>
<circle cx="129.2" cy="450.3" r="2.6" fill="none" stroke="#222" stroke-width="0.72"/>
<circle cx="132.1" cy="453.2" r="2.6" fill="none" stroke="#222" stroke-width="0.72"/>
<circle cx="137.9" cy="453.9" r="2.6" fill="none" stroke="#222" stroke-width="0.72"/>
<circle cx="137.2" cy="456.8" r="2.6" fill="none" stroke="#222" stroke-width="0.72"/>
<circle cx="132.8" cy="460.5" r="2.6" fill="none" stroke="#222" stroke-width="0.72"/>
<circle cx="164.1" cy="359.6" r="2.6" fill="none" stroke="#222" stroke-width="0.72"/>
<circle cx="165.5" cy="370.1" r="2.6" fill="none" stroke="#222" stroke-width="0.72"/>
<circle cx="162.8" cy="372.7" r="2.6" fill="none" stroke="#222" stroke-width="0.72"/>
<circle cx="165.5" cy="381.4" r="2.6" fill="none" stroke="#222" stroke-width="0.72"/>
<circle cx="162.3" cy="385.8" r="2.6" fill="none" stroke="#222" stroke-width="0.72"/>
<circle cx="168.1" cy="385.8" r="2.6" fill="none" stroke="#222" stroke-width="0.72"/>
<circle cx="165.1" cy="389.3" r="2.6" fill="none" stroke="#222" stroke-width="0.72"/>
<circle cx="165.5" cy="413.7" r="2.6" fill="none" stroke="#222" stroke-width="0.72"/>
<circle cx="162.0" cy="417.7" r="2.6" fill="none" stroke="#222" stroke-width="0.72"/>
<circle cx="170.7" cy="420.2" r="2.6" fill="none" stroke="#222" stroke-width="0.72"/>
<circle cx="158.9" cy="426.6" r="2.6" fill="none" stroke="#222" stroke-width="0.72"/>
<circle cx="166.0" cy="426.0" r="2.6" fill="none" stroke="#222" stroke-width="0.72"/>
<circle cx="170.9" cy="427.6" r="2.6" fill="none" stroke="#222" stroke-width="0.72"/>
<circle cx="162.2" cy="430.4" r="2.6" fill="none" stroke="#222" stroke-width="0.72"/>
<circle cx="158.9" cy="435.3" r="2.6" fill="none" stroke="#222" stroke-width="0.72"/>
<circle cx="170.4" cy="436.4" r="2.6" fill="none" stroke="#222" stroke-width="0.72"/>
<circle cx="158.4" cy="439.7" r="2.6" fill="none" stroke="#222" stroke-width="0.72"/>
<circle cx="163.8" cy="439.1" r="2.6" fill="none" stroke="#222" stroke-width="0.72"/>
<circle cx="168.2" cy="440.2" r="2.6" fill="none" stroke="#222" stroke-width="0.72"/>
<circle cx="160.0" cy="445.1" r="2.6" fill="none" stroke="#222" stroke-width="0.72"/>
<circle cx="165.5" cy="444.6" r="2.6" fill="none" stroke="#222" stroke-width="0.72"/>
<circle cx="169.3" cy="447.3" r="2.6" fill="none" stroke="#222" stroke-width="0.72"/>
<circle cx="161.6" cy="449.5" r="2.6" fill="none" stroke="#222" stroke-width="0.72"/>
<circle cx="166.6" cy="450.0" r="2.6" fill="none" stroke="#222" stroke-width="0.72"/>
<circle cx="162.2" cy="453.8" r="2.6" fill="none" stroke="#222" stroke-width="0.72"/>
<circle cx="168.7" cy="455.5" r="2.6" fill="none" stroke="#222" stroke-width="0.72"/>
<circle cx="164.4" cy="462.0" r="2.6" fill="none" stroke="#222" stroke-width="0.72"/>
<circle cx="193.2" cy="362.3" r="2.6" fill="none" stroke="#222" stroke-width="0.72"/>
<circle cx="192.7" cy="373.3" r="2.6" fill="none" stroke="#222" stroke-width="0.72"/>
<circle cx="194.5" cy="374.2" r="2.6" fill="none" stroke="#222" stroke-width="0.72"/>
<circle cx="193.1" cy="379.4" r="2.6" fill="none" stroke="#222" stroke-width="0.72"/>
<circle cx="193.1" cy="385.5" r="2.6" fill="none" stroke="#222" stroke-width="0.72"/>
<circle cx="191.3" cy="402.1" r="2.6" fill="none" stroke="#222" stroke-width="0.72"/>
<circle cx="195.3" cy="401.8" r="2.6" fill="none" stroke="#222" stroke-width="0.72"/>
<circle cx="193.1" cy="410.8" r="2.6" fill="none" stroke="#222" stroke-width="0.72"/>
<circle cx="191.8" cy="417.8" r="2.6" fill="none" stroke="#222" stroke-width="0.72"/>
<circle cx="194.5" cy="418.7" r="2.6" fill="none" stroke="#222" stroke-width="0.72"/>
<circle cx="189.6" cy="426.6" r="2.6" fill="none" stroke="#222" stroke-width="0.72"/>
<circle cx="193.4" cy="433.1" r="2.6" fill="none" stroke="#222" stroke-width="0.72"/>
<circle cx="196.7" cy="432.6" r="2.6" fill="none" stroke="#222" stroke-width="0.72"/>
<circle cx="196.7" cy="438.0" r="2.6" fill="none" stroke="#222" stroke-width="0.72"/>
<circle cx="189.0" cy="443.5" r="2.6" fill="none" stroke="#222" stroke-width="0.72"/>
<circle cx="193.4" cy="442.9" r="2.6" fill="none" stroke="#222" stroke-width="0.72"/>
<circle cx="198.8" cy="444.6" r="2.6" fill="none" stroke="#222" stroke-width="0.72"/>
<circle cx="186.8" cy="448.9" r="2.6" fill="none" stroke="#222" stroke-width="0.72"/>
<circle cx="192.3" cy="451.7" r="2.6" fill="none" stroke="#222" stroke-width="0.72"/>
<circle cx="196.7" cy="452.8" r="2.6" fill="none" stroke="#222" stroke-width="0.72"/>
<circle cx="191.2" cy="456.0" r="2.6" fill="none" stroke="#222" stroke-width="0.72"/>
<circle cx="196.1" cy="456.6" r="2.6" fill="none" stroke="#222" stroke-width="0.72"/>
<circle cx="189.6" cy="460.4" r="2.6" fill="none" stroke="#222" stroke-width="0.72"/>
<circle cx="222.6" cy="370.6" r="2.6" fill="none" stroke="#222" stroke-width="0.72"/>
<circle cx="221.7" cy="383.8" r="2.6" fill="none" stroke="#222" stroke-width="0.72"/>
<circle cx="223.5" cy="383.3" r="2.6" fill="none" stroke="#222" stroke-width="0.72"/>
<circle cx="222.1" cy="389.1" r="2.6" fill="none" stroke="#222" stroke-width="0.72"/>
<circle cx="220.0" cy="405.5" r="2.6" fill="none" stroke="#222" stroke-width="0.72"/>
<circle cx="223.5" cy="405.5" r="2.6" fill="none" stroke="#222" stroke-width="0.72"/>
<circle cx="226.1" cy="406.9" r="2.6" fill="none" stroke="#222" stroke-width="0.72"/>
<circle cx="222.6" cy="411.2" r="2.6" fill="none" stroke="#222" stroke-width="0.72"/>
<circle cx="222.1" cy="420.8" r="2.6" fill="none" stroke="#222" stroke-width="0.72"/>
<circle cx="218.0" cy="434.8" r="2.6" fill="none" stroke="#222" stroke-width="0.72"/>
<circle cx="222.4" cy="434.3" r="2.6" fill="none" stroke="#222" stroke-width="0.72"/>
<circle cx="227.3" cy="435.4" r="2.6" fill="none" stroke="#222" stroke-width="0.72"/>
<circle cx="220.2" cy="439.2" r="2.6" fill="none" stroke="#222" stroke-width="0.72"/>
<circle cx="224.6" cy="438.6" r="2.6" fill="none" stroke="#222" stroke-width="0.72"/>
<circle cx="221.8" cy="444.1" r="2.6" fill="none" stroke="#222" stroke-width="0.72"/>
<circle cx="216.9" cy="450.1" r="2.6" fill="none" stroke="#222" stroke-width="0.72"/>
<circle cx="221.3" cy="448.5" r="2.6" fill="none" stroke="#222" stroke-width="0.72"/>
<circle cx="225.1" cy="449.6" r="2.6" fill="none" stroke="#222" stroke-width="0.72"/>
<circle cx="228.4" cy="450.7" r="2.6" fill="none" stroke="#222" stroke-width="0.72"/>
<circle cx="219.1" cy="453.4" r="2.6" fill="none" stroke="#222" stroke-width="0.72"/>
<circle cx="223.5" cy="453.9" r="2.6" fill="none" stroke="#222" stroke-width="0.72"/>
<circle cx="227.3" cy="453.4" r="2.6" fill="none" stroke="#222" stroke-width="0.72"/>
<line x1="76.50" y1="396.73" x2="76.50" y2="438.35" stroke="#111" stroke-width="1"/>
<line x1="71.50" y1="396.50" x2="81.50" y2="396.50" stroke="#111" stroke-width="1.2"/>
<line x1="71.50" y1="438.50" x2="81.50" y2="438.50" stroke="#111" stroke-width="1.2"/>
<line x1="105.50" y1="393.95" x2="105.50" y2="428.18" stroke="#111" stroke-width="1"/>
<line x1="100.50" y1="393.50" x2="110.50" y2="393.50" stroke="#111" stroke-width="1.2"/>
<line x1="100.50" y1="428.50" x2="110.50" y2="428.50" stroke="#111" stroke-width="1.2"/>
<line x1="135.50" y1="396.73" x2="135.50" y2="455.93" stroke="#111" stroke-width="1"/>
<line x1="130.50" y1="396.50" x2="140.50" y2="396.50" stroke="#111" stroke-width="1.2"/>
<line x1="130.50" y1="455.50" x2="140.50" y2="455.50" stroke="#111" stroke-width="1.2"/>
<line x1="164.50" y1="394.88" x2="164.50" y2="452.23" stroke="#111" stroke-width="1"/>
<line x1="159.50" y1="394.50" x2="169.50" y2="394.50" stroke="#111" stroke-width="1.2"/>
<line x1="159.50" y1="452.50" x2="169.50" y2="452.50" stroke="#111" stroke-width="1.2"/>
<line x1="193.50" y1="398.57" x2="193.50" y2="455.93" stroke="#111" stroke-width="1"/>
<line x1="188.50" y1="398.50" x2="198.50" y2="398.50" stroke="#111" stroke-width="1.2"/>
<line x1="188.50" y1="455.50" x2="198.50" y2="455.50" stroke="#111" stroke-width="1.2"/>
<line x1="222.50" y1="405.98" x2="222.50" y2="455.93" stroke="#111" stroke-width="1"/>
<line x1="217.50" y1="405.50" x2="227.50" y2="405.50" stroke="#111" stroke-width="1.2"/>
<line x1="217.50" y1="455.50" x2="227.50" y2="455.50" stroke="#111" stroke-width="1.2"/>
<line x1="57.3" y1="306.25" x2="57.3" y2="493" stroke="#000" stroke-width="2"/>
<line x1="49.8" y1="492.00" x2="57.3" y2="492.00" stroke="#000" stroke-width="1.5"/>
<text x="46.2" y="495.60" font-size="10" text-anchor="end">0.0</text>
<line x1="49.8" y1="445.75" x2="57.3" y2="445.75" stroke="#000" stroke-width="1.5"/>
<text x="46.2" y="449.35" font-size="10" text-anchor="end">0.5</text>
<line x1="49.8" y1="399.50" x2="57.3" y2="399.50" stroke="#000" stroke-width="1.5"/>
<text x="46.2" y="403.10" font-size="10" text-anchor="end">1.0</text>
<line x1="49.8" y1="353.25" x2="57.3" y2="353.25" stroke="#000" stroke-width="1.5"/>
<text x="46.2" y="356.85" font-size="10" text-anchor="end">1.5</text>
<line x1="49.8" y1="307.00" x2="57.3" y2="307.00" stroke="#000" stroke-width="1.5"/>
<text x="46.2" y="310.60" font-size="10" text-anchor="end">2.0</text>
<line x1="53.3" y1="468.88" x2="57.3" y2="468.88" stroke="#000" stroke-width="1.5"/>
<line x1="53.3" y1="422.62" x2="57.3" y2="422.62" stroke="#000" stroke-width="1.5"/>
<line x1="53.3" y1="376.38" x2="57.3" y2="376.38" stroke="#000" stroke-width="1.5"/>
<line x1="53.3" y1="330.12" x2="57.3" y2="330.12" stroke="#000" stroke-width="1.5"/>
<line x1="50" y1="492" x2="242.3" y2="492" stroke="#000" stroke-width="2"/>
<line x1="76.60" y1="492" x2="76.60" y2="500" stroke="#000" stroke-width="1.5"/>
<text x="78.50" y="509.40" font-size="10.3" text-anchor="end" transform="rotate(-45 78.50 509.40)">Control IG+</text>
<line x1="105.80" y1="492" x2="105.80" y2="500" stroke="#000" stroke-width="1.5"/>
<text x="107.70" y="509.40" font-size="10.3" text-anchor="end" transform="rotate(-45 107.70 509.40)">Control IG-</text>
<line x1="135.00" y1="492" x2="135.00" y2="500" stroke="#000" stroke-width="1.5"/>
<text x="136.90" y="509.40" font-size="10.3" text-anchor="end" transform="rotate(-45 136.90 509.40)">C1</text>
<line x1="164.20" y1="492" x2="164.20" y2="500" stroke="#000" stroke-width="1.5"/>
<text x="166.10" y="509.40" font-size="10.3" text-anchor="end" transform="rotate(-45 166.10 509.40)">C7</text>
<line x1="193.40" y1="492" x2="193.40" y2="500" stroke="#000" stroke-width="1.5"/>
<text x="195.30" y="509.40" font-size="10.3" text-anchor="end" transform="rotate(-45 195.30 509.40)">C14</text>
<line x1="222.60" y1="492" x2="222.60" y2="500" stroke="#000" stroke-width="1.5"/>
<text x="224.50" y="509.40" font-size="10.3" text-anchor="end" transform="rotate(-45 224.50 509.40)">C28</text>
<rect x="334.50" y="471.50" width="18.00" height="19.30" fill="#7a7a7a" stroke="#111" stroke-width="1"/>
<rect x="363.50" y="471.50" width="18.00" height="19.30" fill="#cccccc" stroke="#111" stroke-width="1"/>
<rect x="392.50" y="469.50" width="18.00" height="21.30" fill="#b8b8b8" stroke="#111" stroke-width="1"/>
<rect x="421.50" y="445.50" width="18.00" height="45.30" fill="#e8e8e8" stroke="#111" stroke-width="1"/>
<rect x="450.50" y="467.50" width="19.00" height="23.30" fill="#a8a8a8" stroke="#111" stroke-width="1"/>
<rect x="479.50" y="456.50" width="19.00" height="34.30" fill="#cfcfcf" stroke="#111" stroke-width="1"/>
<circle cx="342.8" cy="463.7" r="2.6" fill="none" stroke="#222" stroke-width="0.72"/>
<circle cx="342.6" cy="471.9" r="2.6" fill="none" stroke="#222" stroke-width="0.72"/>
<circle cx="349.9" cy="471.2" r="2.6" fill="none" stroke="#222" stroke-width="0.72"/>
<circle cx="343.4" cy="472.2" r="2.6" fill="none" stroke="#222" stroke-width="0.72"/>
<circle cx="338.4" cy="471.5" r="2.6" fill="none" stroke="#222" stroke-width="0.72"/>
<circle cx="345.3" cy="473.9" r="2.6" fill="none" stroke="#222" stroke-width="0.72"/>
<circle cx="337.0" cy="469.8" r="2.6" fill="none" stroke="#222" stroke-width="0.72"/>
<circle cx="336.9" cy="474.0" r="2.6" fill="none" stroke="#222" stroke-width="0.72"/>
<circle cx="346.3" cy="467.6" r="2.6" fill="none" stroke="#222" stroke-width="0.72"/>
<circle cx="350.8" cy="475.3" r="2.6" fill="none" stroke="#222" stroke-width="0.72"/>
<circle cx="345.7" cy="472.4" r="2.6" fill="none" stroke="#222" stroke-width="0.72"/>
<circle cx="338.0" cy="467.4" r="2.6" fill="none" stroke="#222" stroke-width="0.72"/>
<circle cx="343.7" cy="467.8" r="2.6" fill="none" stroke="#222" stroke-width="0.72"/>
<circle cx="338.5" cy="469.3" r="2.6" fill="none" stroke="#222" stroke-width="0.72"/>
<circle cx="336.0" cy="471.2" r="2.6" fill="none" stroke="#222" stroke-width="0.72"/>
<circle cx="342.4" cy="474.3" r="2.6" fill="none" stroke="#222" stroke-width="0.72"/>
<circle cx="343.6" cy="472.6" r="2.6" fill="none" stroke="#222" stroke-width="0.72"/>
<circle cx="343.3" cy="472.8" r="2.6" fill="none" stroke="#222" stroke-width="0.72"/>
<circle cx="342.6" cy="469.6" r="2.6" fill="none" stroke="#222" stroke-width="0.72"/>
<circle cx="351.1" cy="475.6" r="2.6" fill="none" stroke="#222" stroke-width="0.72"/>
<circle cx="348.6" cy="473.2" r="2.6" fill="none" stroke="#222" stroke-width="0.72"/>
<circle cx="340.4" cy="469.2" r="2.6" fill="none" stroke="#222" stroke-width="0.72"/>
<circle cx="340.0" cy="467.9" r="2.6" fill="none" stroke="#222" stroke-width="0.72"/>
<circle cx="347.5" cy="470.6" r="2.6" fill="none" stroke="#222" stroke-width="0.72"/>
<circle cx="348.7" cy="470.5" r="2.6" fill="none" stroke="#222" stroke-width="0.72"/>
<circle cx="350.4" cy="474.3" r="2.6" fill="none" stroke="#222" stroke-width="0.72"/>
<circle cx="335.5" cy="469.0" r="2.6" fill="none" stroke="#222" stroke-width="0.72"/>
<circle cx="349.7" cy="471.2" r="2.6" fill="none" stroke="#222" stroke-width="0.72"/>
<circle cx="350.8" cy="470.6" r="2.6" fill="none" stroke="#222" stroke-width="0.72"/>
<circle cx="336.6" cy="472.5" r="2.6" fill="none" stroke="#222" stroke-width="0.72"/>
<circle cx="347.6" cy="469.5" r="2.6" fill="none" stroke="#222" stroke-width="0.72"/>
<circle cx="336.9" cy="470.1" r="2.6" fill="none" stroke="#222" stroke-width="0.72"/>
<circle cx="350.5" cy="473.6" r="2.6" fill="none" stroke="#222" stroke-width="0.72"/>
<circle cx="337.3" cy="469.3" r="2.6" fill="none" stroke="#222" stroke-width="0.72"/>
<circle cx="337.1" cy="467.8" r="2.6" fill="none" stroke="#222" stroke-width="0.72"/>
<circle cx="372.3" cy="463.9" r="2.6" fill="none" stroke="#222" stroke-width="0.72"/>
<circle cx="372.0" cy="472.8" r="2.6" fill="none" stroke="#222" stroke-width="0.72"/>
<circle cx="375.0" cy="468.5" r="2.6" fill="none" stroke="#222" stroke-width="0.72"/>
<circle cx="364.8" cy="470.4" r="2.6" fill="none" stroke="#222" stroke-width="0.72"/>
<circle cx="368.9" cy="474.0" r="2.6" fill="none" stroke="#222" stroke-width="0.72"/>
<circle cx="375.4" cy="472.3" r="2.6" fill="none" stroke="#222" stroke-width="0.72"/>
<circle cx="373.3" cy="472.8" r="2.6" fill="none" stroke="#222" stroke-width="0.72"/>
<circle cx="366.9" cy="471.0" r="2.6" fill="none" stroke="#222" stroke-width="0.72"/>
<circle cx="367.1" cy="474.8" r="2.6" fill="none" stroke="#222" stroke-width="0.72"/>
<circle cx="365.5" cy="474.1" r="2.6" fill="none" stroke="#222" stroke-width="0.72"/>
<circle cx="365.8" cy="473.0" r="2.6" fill="none" stroke="#222" stroke-width="0.72"/>
<circle cx="369.9" cy="470.7" r="2.6" fill="none" stroke="#222" stroke-width="0.72"/>
<circle cx="377.7" cy="467.5" r="2.6" fill="none" stroke="#222" stroke-width="0.72"/>
<circle cx="365.5" cy="474.9" r="2.6" fill="none" stroke="#222" stroke-width="0.72"/>
<circle cx="372.5" cy="468.1" r="2.6" fill="none" stroke="#222" stroke-width="0.72"/>
<circle cx="380.0" cy="475.2" r="2.6" fill="none" stroke="#222" stroke-width="0.72"/>
<circle cx="366.4" cy="470.8" r="2.6" fill="none" stroke="#222" stroke-width="0.72"/>
<circle cx="366.7" cy="469.9" r="2.6" fill="none" stroke="#222" stroke-width="0.72"/>
<circle cx="374.3" cy="468.7" r="2.6" fill="none" stroke="#222" stroke-width="0.72"/>
<circle cx="375.5" cy="467.7" r="2.6" fill="none" stroke="#222" stroke-width="0.72"/>
<circle cx="367.3" cy="474.1" r="2.6" fill="none" stroke="#222" stroke-width="0.72"/>
<circle cx="370.8" cy="470.8" r="2.6" fill="none" stroke="#222" stroke-width="0.72"/>
<circle cx="373.9" cy="471.3" r="2.6" fill="none" stroke="#222" stroke-width="0.72"/>
<circle cx="370.6" cy="467.6" r="2.6" fill="none" stroke="#222" stroke-width="0.72"/>
<circle cx="375.9" cy="475.3" r="2.6" fill="none" stroke="#222" stroke-width="0.72"/>
<circle cx="379.8" cy="472.8" r="2.6" fill="none" stroke="#222" stroke-width="0.72"/>
<circle cx="370.2" cy="470.3" r="2.6" fill="none" stroke="#222" stroke-width="0.72"/>
<circle cx="375.4" cy="472.9" r="2.6" fill="none" stroke="#222" stroke-width="0.72"/>
<circle cx="366.4" cy="469.3" r="2.6" fill="none" stroke="#222" stroke-width="0.72"/>
<circle cx="370.3" cy="471.5" r="2.6" fill="none" stroke="#222" stroke-width="0.72"/>
<circle cx="377.2" cy="471.5" r="2.6" fill="none" stroke="#222" stroke-width="0.72"/>
<circle cx="365.0" cy="474.1" r="2.6" fill="none" stroke="#222" stroke-width="0.72"/>
<circle cx="371.3" cy="471.6" r="2.6" fill="none" stroke="#222" stroke-width="0.72"/>
<circle cx="368.1" cy="470.8" r="2.6" fill="none" stroke="#222" stroke-width="0.72"/>
<circle cx="370.7" cy="473.7" r="2.6" fill="none" stroke="#222" stroke-width="0.72"/>
<circle cx="401.6" cy="439.3" r="2.6" fill="none" stroke="#222" stroke-width="0.72"/>
<circle cx="401.6" cy="445.3" r="2.6" fill="none" stroke="#222" stroke-width="0.72"/>
<circle cx="401.6" cy="456.2" r="2.6" fill="none" stroke="#222" stroke-width="0.72"/>
<circle cx="401.4" cy="466.6" r="2.6" fill="none" stroke="#222" stroke-width="0.72"/>
<circle cx="395.4" cy="469.3" r="2.6" fill="none" stroke="#222" stroke-width="0.72"/>
<circle cx="407.9" cy="469.3" r="2.6" fill="none" stroke="#222" stroke-width="0.72"/>
<circle cx="397.8" cy="474.1" r="2.6" fill="none" stroke="#222" stroke-width="0.72"/>
<circle cx="404.5" cy="475.0" r="2.6" fill="none" stroke="#222" stroke-width="0.72"/>
<circle cx="396.7" cy="471.6" r="2.6" fill="none" stroke="#222" stroke-width="0.72"/>
<circle cx="396.1" cy="471.5" r="2.6" fill="none" stroke="#222" stroke-width="0.72"/>
<circle cx="405.3" cy="471.0" r="2.6" fill="none" stroke="#222" stroke-width="0.72"/>
<circle cx="402.1" cy="471.5" r="2.6" fill="none" stroke="#222" stroke-width="0.72"/>
<circle cx="398.4" cy="472.7" r="2.6" fill="none" stroke="#222" stroke-width="0.72"/>
<circle cx="406.9" cy="473.6" r="2.6" fill="none" stroke="#222" stroke-width="0.72"/>
<circle cx="394.0" cy="471.8" r="2.6" fill="none" stroke="#222" stroke-width="0.72"/>
<circle cx="396.1" cy="475.1" r="2.6" fill="none" stroke="#222" stroke-width="0.72"/>
<circle cx="406.4" cy="474.7" r="2.6" fill="none" stroke="#222" stroke-width="0.72"/>
<circle cx="406.7" cy="474.4" r="2.6" fill="none" stroke="#222" stroke-width="0.72"/>
<circle cx="408.6" cy="474.7" r="2.6" fill="none" stroke="#222" stroke-width="0.72"/>
<circle cx="397.8" cy="475.0" r="2.6" fill="none" stroke="#222" stroke-width="0.72"/>
<circle cx="401.4" cy="474.5" r="2.6" fill="none" stroke="#222" stroke-width="0.72"/>
<circle cx="402.6" cy="472.7" r="2.6" fill="none" stroke="#222" stroke-width="0.72"/>
<circle cx="399.5" cy="472.7" r="2.6" fill="none" stroke="#222" stroke-width="0.72"/>
<circle cx="398.7" cy="470.9" r="2.6" fill="none" stroke="#222" stroke-width="0.72"/>
<circle cx="406.6" cy="474.7" r="2.6" fill="none" stroke="#222" stroke-width="0.72"/>
<circle cx="409.2" cy="474.1" r="2.6" fill="none" stroke="#222" stroke-width="0.72"/>
<circle cx="402.4" cy="474.4" r="2.6" fill="none" stroke="#222" stroke-width="0.72"/>
<circle cx="395.9" cy="474.0" r="2.6" fill="none" stroke="#222" stroke-width="0.72"/>
<circle cx="400.7" cy="471.3" r="2.6" fill="none" stroke="#222" stroke-width="0.72"/>
<circle cx="397.0" cy="473.2" r="2.6" fill="none" stroke="#222" stroke-width="0.72"/>
<circle cx="430.6" cy="332.2" r="2.6" fill="none" stroke="#222" stroke-width="0.72"/>
<circle cx="430.6" cy="365.7" r="2.6" fill="none" stroke="#222" stroke-width="0.72"/>
<circle cx="430.6" cy="368.5" r="2.6" fill="none" stroke="#222" stroke-width="0.72"/>
<circle cx="430.6" cy="385.8" r="2.6" fill="none" stroke="#222" stroke-width="0.72"/>
<circle cx="430.6" cy="396.8" r="2.6" fill="none" stroke="#222" stroke-width="0.72"/>
<circle cx="430.9" cy="455.1" r="2.6" fill="none" stroke="#222" stroke-width="0.72"/>
<circle cx="430.9" cy="462.8" r="2.6" fill="none" stroke="#222" stroke-width="0.72"/>
<circle cx="430.9" cy="466.0" r="2.6" fill="none" stroke="#222" stroke-width="0.72"/>
<circle cx="426.0" cy="469.8" r="2.6" fill="none" stroke="#222" stroke-width="0.72"/>
<circle cx="430.4" cy="469.3" r="2.6" fill="none" stroke="#222" stroke-width="0.72"/>
<circle cx="435.3" cy="469.8" r="2.6" fill="none" stroke="#222" stroke-width="0.72"/>
<circle cx="424.4" cy="473.1" r="2.6" fill="none" stroke="#222" stroke-width="0.72"/>
<circle cx="428.7" cy="472.6" r="2.6" fill="none" stroke="#222" stroke-width="0.72"/>
<circle cx="433.1" cy="472.0" r="2.6" fill="none" stroke="#222" stroke-width="0.72"/>
<circle cx="437.5" cy="473.7" r="2.6" fill="none" stroke="#222" stroke-width="0.72"/>
<circle cx="427.1" cy="475.3" r="2.6" fill="none" stroke="#222" stroke-width="0.72"/>
<circle cx="432.6" cy="476.4" r="2.6" fill="none" stroke="#222" stroke-width="0.72"/>
<circle cx="436.4" cy="474.8" r="2.6" fill="none" stroke="#222" stroke-width="0.72"/>
<circle cx="460.0" cy="399.1" r="2.6" fill="none" stroke="#222" stroke-width="0.72"/>
<circle cx="460.0" cy="460.0" r="2.6" fill="none" stroke="#222" stroke-width="0.72"/>
<circle cx="460.0" cy="462.7" r="2.6" fill="none" stroke="#222" stroke-width="0.72"/>
<circle cx="456.7" cy="464.9" r="2.6" fill="none" stroke="#222" stroke-width="0.72"/>
<circle cx="453.8" cy="474.3" r="2.6" fill="none" stroke="#222" stroke-width="0.72"/>
<circle cx="462.3" cy="476.5" r="2.6" fill="none" stroke="#222" stroke-width="0.72"/>
<circle cx="456.3" cy="470.3" r="2.6" fill="none" stroke="#222" stroke-width="0.72"/>
<circle cx="463.6" cy="473.9" r="2.6" fill="none" stroke="#222" stroke-width="0.72"/>
<circle cx="456.8" cy="474.2" r="2.6" fill="none" stroke="#222" stroke-width="0.72"/>
<circle cx="458.3" cy="475.0" r="2.6" fill="none" stroke="#222" stroke-width="0.72"/>
<circle cx="453.9" cy="470.0" r="2.6" fill="none" stroke="#222" stroke-width="0.72"/>
<circle cx="466.2" cy="471.2" r="2.6" fill="none" stroke="#222" stroke-width="0.72"/>
<circle cx="456.2" cy="475.2" r="2.6" fill="none" stroke="#222" stroke-width="0.72"/>
<circle cx="462.0" cy="469.3" r="2.6" fill="none" stroke="#222" stroke-width="0.72"/>
<circle cx="460.7" cy="474.0" r="2.6" fill="none" stroke="#222" stroke-width="0.72"/>
<circle cx="454.7" cy="473.9" r="2.6" fill="none" stroke="#222" stroke-width="0.72"/>
<circle cx="454.0" cy="471.0" r="2.6" fill="none" stroke="#222" stroke-width="0.72"/>
<circle cx="453.4" cy="469.8" r="2.6" fill="none" stroke="#222" stroke-width="0.72"/>
<circle cx="467.4" cy="471.6" r="2.6" fill="none" stroke="#222" stroke-width="0.72"/>
<circle cx="467.6" cy="471.9" r="2.6" fill="none" stroke="#222" stroke-width="0.72"/>
<circle cx="461.6" cy="475.9" r="2.6" fill="none" stroke="#222" stroke-width="0.72"/>
<circle cx="462.8" cy="469.0" r="2.6" fill="none" stroke="#222" stroke-width="0.72"/>
<circle cx="461.3" cy="473.7" r="2.6" fill="none" stroke="#222" stroke-width="0.72"/>
<circle cx="454.9" cy="468.9" r="2.6" fill="none" stroke="#222" stroke-width="0.72"/>
<circle cx="465.7" cy="472.6" r="2.6" fill="none" stroke="#222" stroke-width="0.72"/>
<circle cx="455.1" cy="472.1" r="2.6" fill="none" stroke="#222" stroke-width="0.72"/>
<circle cx="455.5" cy="475.2" r="2.6" fill="none" stroke="#222" stroke-width="0.72"/>
<circle cx="459.9" cy="468.9" r="2.6" fill="none" stroke="#222" stroke-width="0.72"/>
<circle cx="464.9" cy="468.8" r="2.6" fill="none" stroke="#222" stroke-width="0.72"/>
<circle cx="456.5" cy="468.3" r="2.6" fill="none" stroke="#222" stroke-width="0.72"/>
<circle cx="488.8" cy="374.2" r="2.6" fill="none" stroke="#222" stroke-width="0.72"/>
<circle cx="488.8" cy="395.4" r="2.6" fill="none" stroke="#222" stroke-width="0.72"/>
<circle cx="488.8" cy="396.4" r="2.6" fill="none" stroke="#222" stroke-width="0.72"/>
<circle cx="488.8" cy="437.5" r="2.6" fill="none" stroke="#222" stroke-width="0.72"/>
<circle cx="488.8" cy="447.5" r="2.6" fill="none" stroke="#222" stroke-width="0.72"/>
<circle cx="488.8" cy="458.1" r="2.6" fill="none" stroke="#222" stroke-width="0.72"/>
<circle cx="496.3" cy="467.6" r="2.6" fill="none" stroke="#222" stroke-width="0.72"/>
<circle cx="492.7" cy="468.8" r="2.6" fill="none" stroke="#222" stroke-width="0.72"/>
<circle cx="496.6" cy="467.6" r="2.6" fill="none" stroke="#222" stroke-width="0.72"/>
<circle cx="494.9" cy="473.3" r="2.6" fill="none" stroke="#222" stroke-width="0.72"/>
<circle cx="494.6" cy="476.0" r="2.6" fill="none" stroke="#222" stroke-width="0.72"/>
<circle cx="484.9" cy="470.4" r="2.6" fill="none" stroke="#222" stroke-width="0.72"/>
<circle cx="492.2" cy="469.9" r="2.6" fill="none" stroke="#222" stroke-width="0.72"/>
<circle cx="485.3" cy="469.4" r="2.6" fill="none" stroke="#222" stroke-width="0.72"/>
<circle cx="494.6" cy="474.9" r="2.6" fill="none" stroke="#222" stroke-width="0.72"/>
<circle cx="493.6" cy="469.4" r="2.6" fill="none" stroke="#222" stroke-width="0.72"/>
<circle cx="495.6" cy="471.8" r="2.6" fill="none" stroke="#222" stroke-width="0.72"/>
<circle cx="484.8" cy="471.4" r="2.6" fill="none" stroke="#222" stroke-width="0.72"/>
<circle cx="487.8" cy="468.2" r="2.6" fill="none" stroke="#222" stroke-width="0.72"/>
<circle cx="490.0" cy="470.6" r="2.6" fill="none" stroke="#222" stroke-width="0.72"/>
<circle cx="490.1" cy="475.4" r="2.6" fill="none" stroke="#222" stroke-width="0.72"/>
<circle cx="491.3" cy="470.9" r="2.6" fill="none" stroke="#222" stroke-width="0.72"/>
<circle cx="494.7" cy="476.0" r="2.6" fill="none" stroke="#222" stroke-width="0.72"/>
<circle cx="488.8" cy="475.5" r="2.6" fill="none" stroke="#222" stroke-width="0.72"/>
<circle cx="481.5" cy="468.7" r="2.6" fill="none" stroke="#222" stroke-width="0.72"/>
<circle cx="483.9" cy="475.5" r="2.6" fill="none" stroke="#222" stroke-width="0.72"/>
<circle cx="492.0" cy="473.6" r="2.6" fill="none" stroke="#222" stroke-width="0.72"/>
<circle cx="485.7" cy="471.7" r="2.6" fill="none" stroke="#222" stroke-width="0.72"/>
<circle cx="495.0" cy="468.3" r="2.6" fill="none" stroke="#222" stroke-width="0.72"/>
<circle cx="483.0" cy="467.9" r="2.6" fill="none" stroke="#222" stroke-width="0.72"/>
<line x1="343.50" y1="468.66" x2="343.50" y2="474.93" stroke="#111" stroke-width="1"/>
<line x1="338.50" y1="468.50" x2="348.50" y2="468.50" stroke="#111" stroke-width="1.2"/>
<line x1="338.50" y1="474.50" x2="348.50" y2="474.50" stroke="#111" stroke-width="1.2"/>
<line x1="372.50" y1="468.66" x2="372.50" y2="475.30" stroke="#111" stroke-width="1"/>
<line x1="367.50" y1="468.50" x2="377.50" y2="468.50" stroke="#111" stroke-width="1.2"/>
<line x1="367.50" y1="475.50" x2="377.50" y2="475.50" stroke="#111" stroke-width="1.2"/>
<line x1="401.50" y1="459.07" x2="401.50" y2="477.88" stroke="#111" stroke-width="1"/>
<line x1="396.50" y1="459.50" x2="406.50" y2="459.50" stroke="#111" stroke-width="1.2"/>
<line x1="396.50" y1="477.50" x2="406.50" y2="477.50" stroke="#111" stroke-width="1.2"/>
<line x1="430.50" y1="398.92" x2="430.50" y2="490.80" stroke="#111" stroke-width="1"/>
<line x1="425.50" y1="398.50" x2="435.50" y2="398.50" stroke="#111" stroke-width="1.2"/>
<line x1="425.50" y1="490.50" x2="435.50" y2="490.50" stroke="#111" stroke-width="1.2"/>
<line x1="459.50" y1="450.95" x2="459.50" y2="483.79" stroke="#111" stroke-width="1"/>
<line x1="454.50" y1="450.50" x2="464.50" y2="450.50" stroke="#111" stroke-width="1.2"/>
<line x1="454.50" y1="483.50" x2="464.50" y2="483.50" stroke="#111" stroke-width="1.2"/>
<line x1="489.50" y1="424.75" x2="489.50" y2="486.37" stroke="#111" stroke-width="1"/>
<line x1="484.50" y1="424.50" x2="494.50" y2="424.50" stroke="#111" stroke-width="1.2"/>
<line x1="484.50" y1="486.50" x2="494.50" y2="486.50" stroke="#111" stroke-width="1.2"/>
<line x1="323.7" y1="305.55" x2="323.7" y2="491.8" stroke="#000" stroke-width="2"/>
<line x1="316.2" y1="490.80" x2="323.7" y2="490.80" stroke="#000" stroke-width="1.5"/>
<text x="312.3" y="494.40" font-size="10" text-anchor="end">0</text>
<line x1="316.2" y1="453.90" x2="323.7" y2="453.90" stroke="#000" stroke-width="1.5"/>
<text x="312.3" y="457.50" font-size="10" text-anchor="end">10</text>
<line x1="316.2" y1="417.00" x2="323.7" y2="417.00" stroke="#000" stroke-width="1.5"/>
<text x="312.3" y="420.60" font-size="10" text-anchor="end">20</text>
<line x1="316.2" y1="380.10" x2="323.7" y2="380.10" stroke="#000" stroke-width="1.5"/>
<text x="312.3" y="383.70" font-size="10" text-anchor="end">30</text>
<line x1="316.2" y1="343.20" x2="323.7" y2="343.20" stroke="#000" stroke-width="1.5"/>
<text x="312.3" y="346.80" font-size="10" text-anchor="end">40</text>
<line x1="316.2" y1="306.30" x2="323.7" y2="306.30" stroke="#000" stroke-width="1.5"/>
<text x="312.3" y="309.90" font-size="10" text-anchor="end">50</text>
<line x1="316" y1="490.8" x2="509" y2="490.8" stroke="#000" stroke-width="2"/>
<line x1="343.30" y1="490.8" x2="343.30" y2="498.8" stroke="#000" stroke-width="1.5"/>
<text x="345.20" y="508.20" font-size="10.3" text-anchor="end" transform="rotate(-45 345.20 508.20)">Control IG+</text>
<line x1="372.44" y1="490.8" x2="372.44" y2="498.8" stroke="#000" stroke-width="1.5"/>
<text x="374.34" y="508.20" font-size="10.3" text-anchor="end" transform="rotate(-45 374.34 508.20)">Control IG-</text>
<line x1="401.58" y1="490.8" x2="401.58" y2="498.8" stroke="#000" stroke-width="1.5"/>
<text x="403.48" y="508.20" font-size="10.3" text-anchor="end" transform="rotate(-45 403.48 508.20)">C1</text>
<line x1="430.72" y1="490.8" x2="430.72" y2="498.8" stroke="#000" stroke-width="1.5"/>
<text x="432.62" y="508.20" font-size="10.3" text-anchor="end" transform="rotate(-45 432.62 508.20)">C7</text>
<line x1="459.86" y1="490.8" x2="459.86" y2="498.8" stroke="#000" stroke-width="1.5"/>
<text x="461.76" y="508.20" font-size="10.3" text-anchor="end" transform="rotate(-45 461.76 508.20)">C14</text>
<line x1="489.00" y1="490.8" x2="489.00" y2="498.8" stroke="#000" stroke-width="1.5"/>
<text x="490.90" y="508.20" font-size="10.3" text-anchor="end" transform="rotate(-45 490.90 508.20)">C28</text>
<text x="20.1" y="192.7" font-size="9.7" textLength="136.8" lengthAdjust="spacingAndGlyphs" transform="rotate(-90 20.1 192.7)">Renalase concentration [ng/mL]</text>
<text x="276.8" y="188.4" font-size="9.7" textLength="122.2" lengthAdjust="spacingAndGlyphs" transform="rotate(-90 276.8 188.4)">NGAL concentration [ng/mL]</text>
<text x="12.9" y="471.4" font-size="9.7" textLength="140.3" lengthAdjust="spacingAndGlyphs" transform="rotate(-90 12.9 471.4)">Cystatin C concentration [µg/mL]</text>
<text x="282.3" y="458.6" font-size="9.7" textLength="133" lengthAdjust="spacingAndGlyphs" transform="rotate(-90 282.3 458.6)">Uric acid concentration [mg/dL]</text>
<text transform="translate(49.8 15.8) scale(1 1.0)" font-size="17" font-weight="bold">A</text>
<text transform="translate(313.9 15.65) scale(1 1.0)" font-size="17" font-weight="bold">B</text>
<text transform="translate(50.2 298.9) scale(1 1.0)" font-size="17" font-weight="bold">C</text>
<text transform="translate(313.6 298.7) scale(1 1.0)" font-size="17" font-weight="bold">D</text>
<g stroke="#8a8a8a" stroke-width="1" fill="none">
<polyline points="114.2,197 114.2,38.2 197.5,38.2 197.5,49.1"/>
<line x1="168.9" y1="49.1" x2="227.5" y2="49.1"/>
<polyline points="342.8,57.6 342.8,28.4 368.1,28.4 368.1,187"/>
<polyline points="376.1,187 376.1,28.4 444.5,28.4 444.5,40.4"/>
<line x1="404.3" y1="40.4" x2="491.5" y2="40.4"/>
</g>
<text x="156" y="34.5" font-size="17" font-weight="bold" text-anchor="middle" style="font-family:'DejaVu Sans',sans-serif">**</text>
<text x="355.5" y="24.6" font-size="14.5" font-weight="bold" text-anchor="middle" style="font-family:'DejaVu Sans',sans-serif">****</text>
<text x="410.2" y="24.6" font-size="14.5" font-weight="bold" text-anchor="middle" style="font-family:'DejaVu Sans',sans-serif">****</text>
</svg>
</body></html>
